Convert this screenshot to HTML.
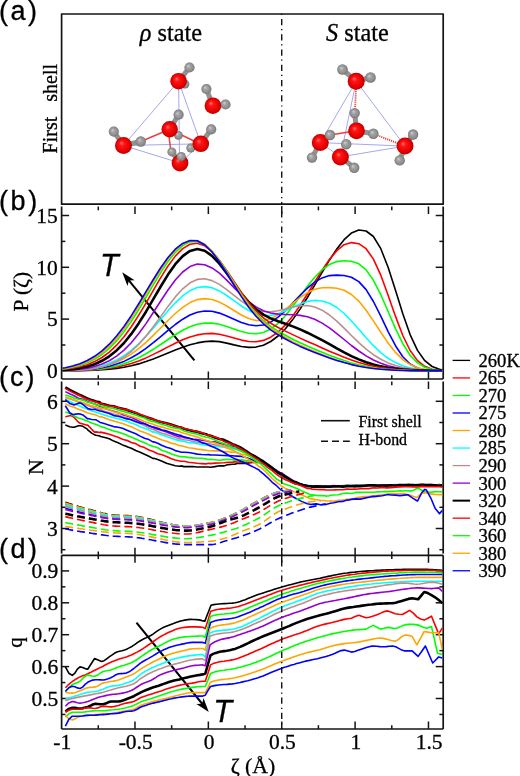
<!DOCTYPE html>
<html><head><meta charset="utf-8"><style>
html,body{margin:0;padding:0;background:#fff;width:520px;height:776px;overflow:hidden}
svg{display:block}
text{fill:#000;stroke:#000;stroke-width:0.3px}
</style></head><body>
<svg width="520" height="776" viewBox="0 0 520 776">
<rect x="61.6" y="14" width="381.59999999999997" height="190.2" fill="none" stroke="#141414" stroke-width="1.7" stroke-linejoin="round"/>
<line x1="61.6" y1="206.5" x2="61.6" y2="379" stroke="#141414" stroke-width="1.7" />
<line x1="443.2" y1="206.5" x2="443.2" y2="379" stroke="#141414" stroke-width="1.7" />
<line x1="61.6" y1="379" x2="443.2" y2="379" stroke="#141414" stroke-width="1.7" />
<line x1="61.6" y1="381.5" x2="61.6" y2="553.6" stroke="#141414" stroke-width="1.7" />
<line x1="443.2" y1="381.5" x2="443.2" y2="553.6" stroke="#141414" stroke-width="1.7" />
<line x1="61.6" y1="555.3" x2="443.2" y2="555.3" stroke="#141414" stroke-width="1.7" />
<line x1="61.6" y1="555.3" x2="61.6" y2="729" stroke="#141414" stroke-width="1.7" />
<line x1="443.2" y1="555.3" x2="443.2" y2="729" stroke="#141414" stroke-width="1.7" />
<line x1="61.6" y1="729" x2="443.2" y2="729" stroke="#141414" stroke-width="1.7" />
<line x1="98.2875" y1="206.5" x2="98.2875" y2="210.3" stroke="#141414" stroke-width="1.5" />
<line x1="98.2875" y1="379" x2="98.2875" y2="375.2" stroke="#141414" stroke-width="1.5" />
<line x1="98.2875" y1="381.5" x2="98.2875" y2="385.3" stroke="#141414" stroke-width="1.5" />
<line x1="98.2875" y1="555.3" x2="98.2875" y2="551.5" stroke="#141414" stroke-width="1.5" />
<line x1="98.2875" y1="555.3" x2="98.2875" y2="559.0999999999999" stroke="#141414" stroke-width="1.5" />
<line x1="98.2875" y1="729" x2="98.2875" y2="725.2" stroke="#141414" stroke-width="1.5" />
<line x1="134.975" y1="206.5" x2="134.975" y2="214.0" stroke="#141414" stroke-width="1.5" />
<line x1="134.975" y1="379" x2="134.975" y2="371.5" stroke="#141414" stroke-width="1.5" />
<line x1="134.975" y1="381.5" x2="134.975" y2="389.0" stroke="#141414" stroke-width="1.5" />
<line x1="134.975" y1="555.3" x2="134.975" y2="547.8" stroke="#141414" stroke-width="1.5" />
<line x1="134.975" y1="555.3" x2="134.975" y2="562.8" stroke="#141414" stroke-width="1.5" />
<line x1="134.975" y1="729" x2="134.975" y2="721.5" stroke="#141414" stroke-width="1.5" />
<line x1="171.6625" y1="206.5" x2="171.6625" y2="210.3" stroke="#141414" stroke-width="1.5" />
<line x1="171.6625" y1="379" x2="171.6625" y2="375.2" stroke="#141414" stroke-width="1.5" />
<line x1="171.6625" y1="381.5" x2="171.6625" y2="385.3" stroke="#141414" stroke-width="1.5" />
<line x1="171.6625" y1="555.3" x2="171.6625" y2="551.5" stroke="#141414" stroke-width="1.5" />
<line x1="171.6625" y1="555.3" x2="171.6625" y2="559.0999999999999" stroke="#141414" stroke-width="1.5" />
<line x1="171.6625" y1="729" x2="171.6625" y2="725.2" stroke="#141414" stroke-width="1.5" />
<line x1="208.35" y1="206.5" x2="208.35" y2="214.0" stroke="#141414" stroke-width="1.5" />
<line x1="208.35" y1="379" x2="208.35" y2="371.5" stroke="#141414" stroke-width="1.5" />
<line x1="208.35" y1="381.5" x2="208.35" y2="389.0" stroke="#141414" stroke-width="1.5" />
<line x1="208.35" y1="555.3" x2="208.35" y2="547.8" stroke="#141414" stroke-width="1.5" />
<line x1="208.35" y1="555.3" x2="208.35" y2="562.8" stroke="#141414" stroke-width="1.5" />
<line x1="208.35" y1="729" x2="208.35" y2="721.5" stroke="#141414" stroke-width="1.5" />
<line x1="245.0375" y1="206.5" x2="245.0375" y2="210.3" stroke="#141414" stroke-width="1.5" />
<line x1="245.0375" y1="379" x2="245.0375" y2="375.2" stroke="#141414" stroke-width="1.5" />
<line x1="245.0375" y1="381.5" x2="245.0375" y2="385.3" stroke="#141414" stroke-width="1.5" />
<line x1="245.0375" y1="555.3" x2="245.0375" y2="551.5" stroke="#141414" stroke-width="1.5" />
<line x1="245.0375" y1="555.3" x2="245.0375" y2="559.0999999999999" stroke="#141414" stroke-width="1.5" />
<line x1="245.0375" y1="729" x2="245.0375" y2="725.2" stroke="#141414" stroke-width="1.5" />
<line x1="281.725" y1="206.5" x2="281.725" y2="214.0" stroke="#141414" stroke-width="1.5" />
<line x1="281.725" y1="379" x2="281.725" y2="371.5" stroke="#141414" stroke-width="1.5" />
<line x1="281.725" y1="381.5" x2="281.725" y2="389.0" stroke="#141414" stroke-width="1.5" />
<line x1="281.725" y1="555.3" x2="281.725" y2="547.8" stroke="#141414" stroke-width="1.5" />
<line x1="281.725" y1="555.3" x2="281.725" y2="562.8" stroke="#141414" stroke-width="1.5" />
<line x1="281.725" y1="729" x2="281.725" y2="721.5" stroke="#141414" stroke-width="1.5" />
<line x1="318.4125" y1="206.5" x2="318.4125" y2="210.3" stroke="#141414" stroke-width="1.5" />
<line x1="318.4125" y1="379" x2="318.4125" y2="375.2" stroke="#141414" stroke-width="1.5" />
<line x1="318.4125" y1="381.5" x2="318.4125" y2="385.3" stroke="#141414" stroke-width="1.5" />
<line x1="318.4125" y1="555.3" x2="318.4125" y2="551.5" stroke="#141414" stroke-width="1.5" />
<line x1="318.4125" y1="555.3" x2="318.4125" y2="559.0999999999999" stroke="#141414" stroke-width="1.5" />
<line x1="318.4125" y1="729" x2="318.4125" y2="725.2" stroke="#141414" stroke-width="1.5" />
<line x1="355.1" y1="206.5" x2="355.1" y2="214.0" stroke="#141414" stroke-width="1.5" />
<line x1="355.1" y1="379" x2="355.1" y2="371.5" stroke="#141414" stroke-width="1.5" />
<line x1="355.1" y1="381.5" x2="355.1" y2="389.0" stroke="#141414" stroke-width="1.5" />
<line x1="355.1" y1="555.3" x2="355.1" y2="547.8" stroke="#141414" stroke-width="1.5" />
<line x1="355.1" y1="555.3" x2="355.1" y2="562.8" stroke="#141414" stroke-width="1.5" />
<line x1="355.1" y1="729" x2="355.1" y2="721.5" stroke="#141414" stroke-width="1.5" />
<line x1="391.7875" y1="206.5" x2="391.7875" y2="210.3" stroke="#141414" stroke-width="1.5" />
<line x1="391.7875" y1="379" x2="391.7875" y2="375.2" stroke="#141414" stroke-width="1.5" />
<line x1="391.7875" y1="381.5" x2="391.7875" y2="385.3" stroke="#141414" stroke-width="1.5" />
<line x1="391.7875" y1="555.3" x2="391.7875" y2="551.5" stroke="#141414" stroke-width="1.5" />
<line x1="391.7875" y1="555.3" x2="391.7875" y2="559.0999999999999" stroke="#141414" stroke-width="1.5" />
<line x1="391.7875" y1="729" x2="391.7875" y2="725.2" stroke="#141414" stroke-width="1.5" />
<line x1="428.475" y1="206.5" x2="428.475" y2="214.0" stroke="#141414" stroke-width="1.5" />
<line x1="428.475" y1="379" x2="428.475" y2="371.5" stroke="#141414" stroke-width="1.5" />
<line x1="428.475" y1="381.5" x2="428.475" y2="389.0" stroke="#141414" stroke-width="1.5" />
<line x1="428.475" y1="555.3" x2="428.475" y2="547.8" stroke="#141414" stroke-width="1.5" />
<line x1="428.475" y1="555.3" x2="428.475" y2="562.8" stroke="#141414" stroke-width="1.5" />
<line x1="428.475" y1="729" x2="428.475" y2="721.5" stroke="#141414" stroke-width="1.5" />
<line x1="61.6" y1="370.9" x2="69.1" y2="370.9" stroke="#141414" stroke-width="1.5" />
<line x1="443.2" y1="370.9" x2="435.7" y2="370.9" stroke="#141414" stroke-width="1.5" />
<line x1="61.6" y1="345.0" x2="65.4" y2="345.0" stroke="#141414" stroke-width="1.5" />
<line x1="443.2" y1="345.0" x2="439.4" y2="345.0" stroke="#141414" stroke-width="1.5" />
<line x1="61.6" y1="319.09999999999997" x2="69.1" y2="319.09999999999997" stroke="#141414" stroke-width="1.5" />
<line x1="443.2" y1="319.09999999999997" x2="435.7" y2="319.09999999999997" stroke="#141414" stroke-width="1.5" />
<line x1="61.6" y1="293.2" x2="65.4" y2="293.2" stroke="#141414" stroke-width="1.5" />
<line x1="443.2" y1="293.2" x2="439.4" y2="293.2" stroke="#141414" stroke-width="1.5" />
<line x1="61.6" y1="267.29999999999995" x2="69.1" y2="267.29999999999995" stroke="#141414" stroke-width="1.5" />
<line x1="443.2" y1="267.29999999999995" x2="435.7" y2="267.29999999999995" stroke="#141414" stroke-width="1.5" />
<line x1="61.6" y1="241.39999999999998" x2="65.4" y2="241.39999999999998" stroke="#141414" stroke-width="1.5" />
<line x1="443.2" y1="241.39999999999998" x2="439.4" y2="241.39999999999998" stroke="#141414" stroke-width="1.5" />
<line x1="61.6" y1="215.5" x2="69.1" y2="215.5" stroke="#141414" stroke-width="1.5" />
<line x1="443.2" y1="215.5" x2="435.7" y2="215.5" stroke="#141414" stroke-width="1.5" />
<line x1="61.6" y1="549.7" x2="65.4" y2="549.7" stroke="#141414" stroke-width="1.5" />
<line x1="443.2" y1="549.7" x2="439.4" y2="549.7" stroke="#141414" stroke-width="1.5" />
<line x1="61.6" y1="528.5" x2="69.1" y2="528.5" stroke="#141414" stroke-width="1.5" />
<line x1="443.2" y1="528.5" x2="435.7" y2="528.5" stroke="#141414" stroke-width="1.5" />
<line x1="61.6" y1="507.3" x2="65.4" y2="507.3" stroke="#141414" stroke-width="1.5" />
<line x1="443.2" y1="507.3" x2="439.4" y2="507.3" stroke="#141414" stroke-width="1.5" />
<line x1="61.6" y1="486.1" x2="69.1" y2="486.1" stroke="#141414" stroke-width="1.5" />
<line x1="443.2" y1="486.1" x2="435.7" y2="486.1" stroke="#141414" stroke-width="1.5" />
<line x1="61.6" y1="464.9" x2="65.4" y2="464.9" stroke="#141414" stroke-width="1.5" />
<line x1="443.2" y1="464.9" x2="439.4" y2="464.9" stroke="#141414" stroke-width="1.5" />
<line x1="61.6" y1="443.7" x2="69.1" y2="443.7" stroke="#141414" stroke-width="1.5" />
<line x1="443.2" y1="443.7" x2="435.7" y2="443.7" stroke="#141414" stroke-width="1.5" />
<line x1="61.6" y1="422.5" x2="65.4" y2="422.5" stroke="#141414" stroke-width="1.5" />
<line x1="443.2" y1="422.5" x2="439.4" y2="422.5" stroke="#141414" stroke-width="1.5" />
<line x1="61.6" y1="401.3" x2="69.1" y2="401.3" stroke="#141414" stroke-width="1.5" />
<line x1="443.2" y1="401.3" x2="435.7" y2="401.3" stroke="#141414" stroke-width="1.5" />
<line x1="61.6" y1="714.45" x2="65.4" y2="714.45" stroke="#141414" stroke-width="1.5" />
<line x1="443.2" y1="714.45" x2="439.4" y2="714.45" stroke="#141414" stroke-width="1.5" />
<line x1="61.6" y1="698.5" x2="69.1" y2="698.5" stroke="#141414" stroke-width="1.5" />
<line x1="443.2" y1="698.5" x2="435.7" y2="698.5" stroke="#141414" stroke-width="1.5" />
<line x1="61.6" y1="682.55" x2="65.4" y2="682.55" stroke="#141414" stroke-width="1.5" />
<line x1="443.2" y1="682.55" x2="439.4" y2="682.55" stroke="#141414" stroke-width="1.5" />
<line x1="61.6" y1="666.6" x2="69.1" y2="666.6" stroke="#141414" stroke-width="1.5" />
<line x1="443.2" y1="666.6" x2="435.7" y2="666.6" stroke="#141414" stroke-width="1.5" />
<line x1="61.6" y1="650.65" x2="65.4" y2="650.65" stroke="#141414" stroke-width="1.5" />
<line x1="443.2" y1="650.65" x2="439.4" y2="650.65" stroke="#141414" stroke-width="1.5" />
<line x1="61.6" y1="634.6999999999999" x2="69.1" y2="634.6999999999999" stroke="#141414" stroke-width="1.5" />
<line x1="443.2" y1="634.6999999999999" x2="435.7" y2="634.6999999999999" stroke="#141414" stroke-width="1.5" />
<line x1="61.6" y1="618.75" x2="65.4" y2="618.75" stroke="#141414" stroke-width="1.5" />
<line x1="443.2" y1="618.75" x2="439.4" y2="618.75" stroke="#141414" stroke-width="1.5" />
<line x1="61.6" y1="602.8" x2="69.1" y2="602.8" stroke="#141414" stroke-width="1.5" />
<line x1="443.2" y1="602.8" x2="435.7" y2="602.8" stroke="#141414" stroke-width="1.5" />
<line x1="61.6" y1="586.8499999999999" x2="65.4" y2="586.8499999999999" stroke="#141414" stroke-width="1.5" />
<line x1="443.2" y1="586.8499999999999" x2="439.4" y2="586.8499999999999" stroke="#141414" stroke-width="1.5" />
<line x1="61.6" y1="570.9" x2="69.1" y2="570.9" stroke="#141414" stroke-width="1.5" />
<line x1="443.2" y1="570.9" x2="435.7" y2="570.9" stroke="#141414" stroke-width="1.5" />
<text x="57.8" y="222.8" font-size="21.5" font-family="'Liberation Serif', 'Times New Roman', serif" text-anchor="end" >15</text>
<text x="57.8" y="274.59999999999997" font-size="21.5" font-family="'Liberation Serif', 'Times New Roman', serif" text-anchor="end" >10</text>
<text x="57.8" y="326.4" font-size="21.5" font-family="'Liberation Serif', 'Times New Roman', serif" text-anchor="end" >5</text>
<text x="57.8" y="378.2" font-size="21.5" font-family="'Liberation Serif', 'Times New Roman', serif" text-anchor="end" >0</text>
<text x="57.8" y="536.1" font-size="21.5" font-family="'Liberation Serif', 'Times New Roman', serif" text-anchor="end" >3</text>
<text x="57.8" y="493.70000000000005" font-size="21.5" font-family="'Liberation Serif', 'Times New Roman', serif" text-anchor="end" >4</text>
<text x="57.8" y="451.3" font-size="21.5" font-family="'Liberation Serif', 'Times New Roman', serif" text-anchor="end" >5</text>
<text x="57.8" y="408.90000000000003" font-size="21.5" font-family="'Liberation Serif', 'Times New Roman', serif" text-anchor="end" >6</text>
<text x="58.3" y="706.0" font-size="21.5" font-family="'Liberation Serif', 'Times New Roman', serif" text-anchor="end" >0.5</text>
<text x="58.3" y="674.1" font-size="21.5" font-family="'Liberation Serif', 'Times New Roman', serif" text-anchor="end" >0.6</text>
<text x="58.3" y="642.2" font-size="21.5" font-family="'Liberation Serif', 'Times New Roman', serif" text-anchor="end" >0.7</text>
<text x="58.3" y="610.3" font-size="21.5" font-family="'Liberation Serif', 'Times New Roman', serif" text-anchor="end" >0.8</text>
<text x="58.3" y="578.4" font-size="21.5" font-family="'Liberation Serif', 'Times New Roman', serif" text-anchor="end" >0.9</text>
<text x="62.3" y="748.8" font-size="21.5" font-family="'Liberation Serif', 'Times New Roman', serif" text-anchor="middle" >-1</text>
<text x="135.67499999999998" y="748.8" font-size="21.5" font-family="'Liberation Serif', 'Times New Roman', serif" text-anchor="middle" >-0.5</text>
<text x="209.04999999999998" y="748.8" font-size="21.5" font-family="'Liberation Serif', 'Times New Roman', serif" text-anchor="middle" >0</text>
<text x="282.425" y="748.8" font-size="21.5" font-family="'Liberation Serif', 'Times New Roman', serif" text-anchor="middle" >0.5</text>
<text x="355.8" y="748.8" font-size="21.5" font-family="'Liberation Serif', 'Times New Roman', serif" text-anchor="middle" >1</text>
<text x="429.175" y="748.8" font-size="21.5" font-family="'Liberation Serif', 'Times New Roman', serif" text-anchor="middle" >1.5</text>
<text x="0" y="0" font-size="20" font-family="'Liberation Serif', 'Times New Roman', serif" text-anchor="middle" transform="translate(57.1,108.7) rotate(-90)">First&#160;&#160;&#160;shell</text>
<text x="0" y="0" font-size="21.5" font-family="'Liberation Serif', 'Times New Roman', serif" text-anchor="middle" transform="translate(27.8,291.7) rotate(-90)">P (ζ)</text>
<text x="0" y="0" font-size="22" font-family="'Liberation Serif', 'Times New Roman', serif" text-anchor="middle" transform="translate(43.2,467) rotate(-90)">N</text>
<text x="0" y="0" font-size="21" font-family="'Liberation Serif', 'Times New Roman', serif" text-anchor="middle" transform="translate(21.5,642.5) rotate(-90)">q</text>
<text x="253" y="773" font-size="21.8" font-family="'Liberation Serif', 'Times New Roman', serif" text-anchor="middle" >ζ (Å)</text>
<text x="-1" y="19.9" font-size="27" font-family="'Liberation Sans', Arial, sans-serif" text-anchor="start" letter-spacing="2.5">(a)</text>
<text x="-1" y="210.3" font-size="27" font-family="'Liberation Sans', Arial, sans-serif" text-anchor="start" letter-spacing="2.6">(b)</text>
<text x="-1" y="386.3" font-size="27" font-family="'Liberation Sans', Arial, sans-serif" text-anchor="start" letter-spacing="2.0">(c)</text>
<text x="-1" y="558.4" font-size="27" font-family="'Liberation Sans', Arial, sans-serif" text-anchor="start" letter-spacing="2.5">(d)</text>
<text x="139.8" y="41.3" font-size="24.3" font-family="'Liberation Serif', 'Times New Roman', serif" text-anchor="start" ><tspan font-style="italic">ρ</tspan> state</text>
<text x="326" y="41.3" font-size="24.3" font-family="'Liberation Serif', 'Times New Roman', serif" text-anchor="start" ><tspan font-style="italic">S</tspan> state</text>
<line x1="452.6" y1="360.4" x2="470.1" y2="360.4" stroke="#000" stroke-width="1.3" />
<text x="478.5" y="366.79999999999995" font-size="18.6" font-family="'Liberation Serif', 'Times New Roman', serif" text-anchor="start" >260K</text>
<line x1="452.6" y1="377.92999999999995" x2="470.1" y2="377.92999999999995" stroke="#f00" stroke-width="1.3" />
<text x="478.5" y="384.3299999999999" font-size="18.6" font-family="'Liberation Serif', 'Times New Roman', serif" text-anchor="start" >265</text>
<line x1="452.6" y1="395.46" x2="470.1" y2="395.46" stroke="#0f0" stroke-width="1.3" />
<text x="478.5" y="401.85999999999996" font-size="18.6" font-family="'Liberation Serif', 'Times New Roman', serif" text-anchor="start" >270</text>
<line x1="452.6" y1="412.99" x2="470.1" y2="412.99" stroke="#00f" stroke-width="1.3" />
<text x="478.5" y="419.39" font-size="18.6" font-family="'Liberation Serif', 'Times New Roman', serif" text-anchor="start" >275</text>
<line x1="452.6" y1="430.52" x2="470.1" y2="430.52" stroke="#ffa500" stroke-width="1.3" />
<text x="478.5" y="436.91999999999996" font-size="18.6" font-family="'Liberation Serif', 'Times New Roman', serif" text-anchor="start" >280</text>
<line x1="452.6" y1="448.04999999999995" x2="470.1" y2="448.04999999999995" stroke="#0ff" stroke-width="1.3" />
<text x="478.5" y="454.44999999999993" font-size="18.6" font-family="'Liberation Serif', 'Times New Roman', serif" text-anchor="start" >285</text>
<line x1="452.6" y1="465.58" x2="470.1" y2="465.58" stroke="#bc8f8f" stroke-width="1.3" />
<text x="478.5" y="471.97999999999996" font-size="18.6" font-family="'Liberation Serif', 'Times New Roman', serif" text-anchor="start" >290</text>
<line x1="452.6" y1="483.11" x2="470.1" y2="483.11" stroke="#9400d3" stroke-width="1.3" />
<text x="478.5" y="489.51" font-size="18.6" font-family="'Liberation Serif', 'Times New Roman', serif" text-anchor="start" >300</text>
<line x1="452.6" y1="500.64" x2="470.1" y2="500.64" stroke="#000" stroke-width="2.0" />
<text x="478.5" y="507.03999999999996" font-size="18.6" font-family="'Liberation Serif', 'Times New Roman', serif" text-anchor="start" >320</text>
<line x1="452.6" y1="518.17" x2="470.1" y2="518.17" stroke="#f00" stroke-width="1.3" />
<text x="478.5" y="524.5699999999999" font-size="18.6" font-family="'Liberation Serif', 'Times New Roman', serif" text-anchor="start" >340</text>
<line x1="452.6" y1="535.7" x2="470.1" y2="535.7" stroke="#0f0" stroke-width="1.3" />
<text x="478.5" y="542.1" font-size="18.6" font-family="'Liberation Serif', 'Times New Roman', serif" text-anchor="start" >360</text>
<line x1="452.6" y1="553.23" x2="470.1" y2="553.23" stroke="#ffa500" stroke-width="1.3" />
<text x="478.5" y="559.63" font-size="18.6" font-family="'Liberation Serif', 'Times New Roman', serif" text-anchor="start" >380</text>
<line x1="452.6" y1="570.76" x2="470.1" y2="570.76" stroke="#00f" stroke-width="1.3" />
<text x="478.5" y="577.16" font-size="18.6" font-family="'Liberation Serif', 'Times New Roman', serif" text-anchor="start" >390</text>
<line x1="321" y1="420.7" x2="349.8" y2="420.7" stroke="#111" stroke-width="1.6" />
<line x1="321" y1="441.2" x2="349.8" y2="441.2" stroke="#111" stroke-width="1.6" stroke-dasharray="7,4"/>
<text x="358.5" y="426.9" font-size="15.9" font-family="'Liberation Serif', 'Times New Roman', serif" text-anchor="start" >First shell</text>
<text x="358.5" y="444.6" font-size="15.9" font-family="'Liberation Serif', 'Times New Roman', serif" text-anchor="start" >H-bond</text>
<line x1="194.4" y1="360.3" x2="128.2" y2="279.6" stroke="#000" stroke-width="2.0"/>
<polygon points="122.2,272.3 134.6,280.2 128.9,280.4 127.5,286.0" fill="#000"/>
<line x1="136.5" y1="622.7" x2="202.8" y2="704.5" stroke="#000" stroke-width="2.0"/>
<polygon points="208.75,711.9 196.4,703.9 202.1,703.7 203.5,698.1" fill="#000"/>
<text x="100.0" y="275.8" font-size="30.5" font-family="'Liberation Sans', Arial, sans-serif" text-anchor="start" font-style="italic">T</text>
<text x="213.2" y="721.6" font-size="30.8" font-family="'Liberation Sans', Arial, sans-serif" text-anchor="start" font-style="italic">T</text>
<defs><clipPath id="cb"><rect x="62.4" y="205" width="380" height="173.5"/></clipPath><clipPath id="cc"><rect x="62.4" y="380" width="380" height="174.5"/></clipPath><clipPath id="cd"><rect x="62.4" y="556" width="380" height="172.3"/></clipPath></defs>
<g clip-path="url(#cb)" fill="none" stroke-linejoin="round">
<path d="M61.6,370.8 L65.3,370.8 L72.6,370.8 L79.9,370.6 L87.3,370.5 L94.6,370.2 L102.0,369.8 L109.3,369.2 L116.6,368.4 L124.0,367.2 L131.3,365.7 L138.6,363.9 L146.0,361.6 L153.3,359.0 L160.7,356.1 L168.0,353.1 L175.3,350.1 L182.7,347.2 L190.0,344.8 L197.3,342.9 L204.7,341.6 L212.0,341.1 L219.4,341.6 L226.7,343.1 L234.0,344.9 L241.4,346.5 L248.7,347.4 L256.0,347.1 L263.4,345.2 L270.7,341.5 L278.1,336.0 L285.4,328.7 L292.7,319.6 L300.1,309.1 L307.4,297.5 L314.7,285.1 L322.1,272.4 L329.4,260.2 L336.8,249.0 L344.1,239.7 L351.4,233.1 L358.8,230.0 L366.1,231.0 L373.4,236.5 L380.8,248.7 L388.1,267.3 L395.5,290.2 L402.8,313.8 L410.1,334.6 L417.5,350.4 L424.8,360.7 L432.1,366.5 L439.5,369.3 L443.1,370.0" stroke="#000" stroke-width="1.6"/>
<path d="M61.6,370.8 L65.3,370.8 L72.6,370.7 L79.9,370.5 L87.3,370.2 L94.6,369.8 L102.0,369.2 L109.3,368.3 L116.6,367.1 L124.0,365.5 L131.3,363.4 L138.6,360.9 L146.0,357.9 L153.3,354.4 L160.7,350.7 L168.0,346.9 L175.3,343.2 L182.7,339.8 L190.0,337.0 L197.3,334.9 L204.7,333.7 L212.0,333.4 L219.4,334.3 L226.7,336.0 L234.0,338.1 L241.4,340.1 L248.7,341.5 L256.0,341.7 L263.4,340.4 L270.7,337.2 L278.1,332.0 L285.4,324.9 L292.7,316.0 L300.1,305.5 L307.4,294.0 L314.7,282.0 L322.1,270.2 L329.4,259.5 L336.8,250.7 L344.1,244.7 L351.4,242.6 L358.8,243.7 L366.1,248.7 L373.4,259.1 L380.8,275.2 L388.1,295.2 L395.5,316.4 L402.8,335.5 L410.1,350.5 L417.5,360.6 L424.8,366.3 L432.1,369.2 L439.5,370.3 L443.1,370.6" stroke="#f00" stroke-width="1.6"/>
<path d="M61.6,370.8 L65.3,370.7 L72.6,370.6 L79.9,370.3 L87.3,370.0 L94.6,369.4 L102.0,368.6 L109.3,367.5 L116.6,365.9 L124.0,363.8 L131.3,361.1 L138.6,357.7 L146.0,353.8 L153.3,349.3 L160.7,344.5 L168.0,339.5 L175.3,334.7 L182.7,330.3 L190.0,326.8 L197.3,324.3 L204.7,323.1 L212.0,323.1 L219.4,324.3 L226.7,326.4 L234.0,329.0 L241.4,331.5 L248.7,333.3 L256.0,333.8 L263.4,332.5 L270.7,329.1 L278.1,323.4 L285.4,315.7 L292.7,306.5 L300.1,296.4 L307.4,286.3 L314.7,277.2 L322.1,269.8 L329.4,264.5 L336.8,261.6 L344.1,260.8 L351.4,261.3 L358.8,263.8 L366.1,269.9 L373.4,280.3 L380.8,294.7 L388.1,311.5 L395.5,328.6 L402.8,343.6 L410.1,355.2 L417.5,362.9 L424.8,367.3 L432.1,369.5 L439.5,370.4 L443.1,370.7" stroke="#0f0" stroke-width="1.6"/>
<path d="M61.6,370.7 L65.3,370.6 L72.6,370.4 L79.9,370.1 L87.3,369.6 L94.6,368.9 L102.0,367.8 L109.3,366.3 L116.6,364.1 L124.0,361.4 L131.3,357.8 L138.6,353.5 L146.0,348.4 L153.3,342.7 L160.7,336.6 L168.0,330.4 L175.3,324.5 L182.7,319.2 L190.0,315.0 L197.3,312.2 L204.7,311.0 L212.0,311.3 L219.4,313.1 L226.7,315.9 L234.0,319.2 L241.4,322.4 L248.7,324.8 L256.0,325.8 L263.4,325.0 L270.7,322.1 L278.1,317.2 L285.4,310.7 L292.7,303.1 L300.1,295.3 L307.4,288.1 L314.7,282.1 L322.1,277.9 L329.4,275.6 L336.8,275.1 L344.1,275.5 L351.4,277.2 L358.8,281.6 L366.1,289.6 L373.4,301.5 L380.8,316.1 L388.1,331.6 L395.5,345.7 L402.8,356.7 L410.1,364.0 L417.5,368.0 L424.8,369.9 L432.1,370.6 L439.5,370.8 L443.1,370.9" stroke="#00f" stroke-width="1.6"/>
<path d="M61.6,370.6 L65.3,370.5 L72.6,370.3 L79.9,369.9 L87.3,369.2 L94.6,368.2 L102.0,366.8 L109.3,364.8 L116.6,362.1 L124.0,358.6 L131.3,354.1 L138.6,348.7 L146.0,342.4 L153.3,335.4 L160.7,328.0 L168.0,320.5 L175.3,313.5 L182.7,307.3 L190.0,302.6 L197.3,299.6 L204.7,298.6 L212.0,299.5 L219.4,302.1 L226.7,306.0 L234.0,310.5 L241.4,315.0 L248.7,318.5 L256.0,320.5 L263.4,320.6 L270.7,318.6 L278.1,314.7 L285.4,309.4 L292.7,303.4 L300.1,297.6 L307.4,292.7 L314.7,289.3 L322.1,287.7 L329.4,287.6 L336.8,288.3 L344.1,290.3 L351.4,294.5 L358.8,301.1 L366.1,310.2 L373.4,320.9 L380.8,332.3 L388.1,343.1 L395.5,352.4 L402.8,359.6 L410.1,364.6 L417.5,367.7 L424.8,369.4 L432.1,370.3 L439.5,370.7 L443.1,370.8" stroke="#ffa500" stroke-width="1.6"/>
<path d="M61.6,370.6 L65.3,370.4 L72.6,370.1 L79.9,369.6 L87.3,368.8 L94.6,367.5 L102.0,365.8 L109.3,363.3 L116.6,360.0 L124.0,355.7 L131.3,350.3 L138.6,343.8 L146.0,336.3 L153.3,328.1 L160.7,319.4 L168.0,310.8 L175.3,302.8 L182.7,295.9 L190.0,290.7 L197.3,287.5 L204.7,286.6 L212.0,287.8 L219.4,290.9 L226.7,295.5 L234.0,300.7 L241.4,306.0 L248.7,310.6 L256.0,313.9 L263.4,315.5 L270.7,315.4 L278.1,313.7 L285.4,310.8 L292.7,307.3 L300.1,304.0 L307.4,301.5 L314.7,300.4 L322.1,301.0 L329.4,303.3 L336.8,307.5 L344.1,313.5 L351.4,321.0 L358.8,329.3 L366.1,337.8 L373.4,345.7 L380.8,352.7 L388.1,358.3 L395.5,362.6 L402.8,365.8 L410.1,367.9 L417.5,369.2 L424.8,370.0 L432.1,370.4 L439.5,370.7 L443.1,370.8" stroke="#0ff" stroke-width="1.6"/>
<path d="M61.6,370.7 L65.3,370.6 L72.6,370.4 L79.9,370.0 L87.3,369.4 L94.6,368.4 L102.0,366.9 L109.3,364.6 L116.6,361.5 L124.0,357.1 L131.3,351.5 L138.6,344.5 L146.0,336.1 L153.3,326.7 L160.7,316.6 L168.0,306.4 L175.3,296.9 L182.7,288.8 L190.0,282.8 L197.3,279.4 L204.7,278.8 L212.0,280.6 L219.4,284.4 L226.7,289.6 L234.0,295.4 L241.4,301.1 L248.7,306.0 L256.0,309.6 L263.4,311.5 L270.7,311.8 L278.1,310.8 L285.4,309.0 L292.7,307.0 L300.1,305.7 L307.4,305.5 L314.7,307.0 L322.1,310.2 L329.4,315.0 L336.8,321.2 L344.1,328.2 L351.4,335.5 L358.8,342.6 L366.1,349.1 L373.4,354.7 L380.8,359.3 L388.1,362.9 L395.5,365.6 L402.8,367.5 L410.1,368.8 L417.5,369.6 L424.8,370.2 L432.1,370.5 L439.5,370.7 L443.1,370.7" stroke="#bc8f8f" stroke-width="1.6"/>
<path d="M61.6,370.5 L65.3,370.3 L72.6,369.9 L79.9,369.2 L87.3,368.1 L94.6,366.5 L102.0,364.1 L109.3,360.7 L116.6,356.1 L124.0,350.1 L131.3,342.7 L138.6,333.8 L146.0,323.6 L153.3,312.5 L160.7,301.0 L168.0,290.0 L175.3,280.0 L182.7,272.0 L190.0,266.6 L197.3,264.1 L204.7,264.7 L212.0,267.9 L219.4,273.2 L226.7,280.1 L234.0,287.6 L241.4,295.0 L248.7,301.6 L256.0,306.9 L263.4,310.7 L270.7,313.0 L278.1,314.1 L285.4,314.5 L292.7,314.8 L300.1,315.4 L307.4,316.8 L314.7,319.3 L322.1,323.1 L329.4,327.9 L336.8,333.6 L344.1,339.5 L351.4,345.5 L358.8,351.0 L366.1,355.9 L373.4,360.0 L380.8,363.3 L388.1,365.7 L395.5,367.5 L402.8,368.8 L410.1,369.6 L417.5,370.2 L424.8,370.5 L432.1,370.7 L439.5,370.8 L443.1,370.8" stroke="#9400d3" stroke-width="1.6"/>
<path d="M61.6,370.1 L65.3,369.9 L72.6,369.2 L79.9,368.1 L87.3,366.5 L94.6,364.2 L102.0,360.8 L109.3,356.3 L116.6,350.4 L124.0,343.0 L131.3,333.9 L138.6,323.4 L146.0,311.7 L153.3,299.1 L160.7,286.5 L168.0,274.6 L175.3,264.2 L182.7,256.1 L190.0,250.9 L197.3,249.0 L204.7,250.7 L212.0,255.9 L219.4,263.7 L226.7,273.3 L234.0,283.6 L241.4,293.5 L248.7,302.2 L256.0,309.3 L263.4,314.6 L270.7,318.4 L278.1,321.2 L285.4,323.7 L292.7,326.4 L300.1,329.4 L307.4,332.7 L314.7,336.3 L322.1,340.2 L329.4,344.2 L336.8,348.4 L344.1,352.4 L351.4,356.1 L358.8,359.4 L366.1,362.2 L373.4,364.5 L380.8,366.4 L388.1,367.8 L395.5,368.8 L402.8,369.5 L410.1,370.0 L417.5,370.4 L424.8,370.6 L432.1,370.7 L439.5,370.8 L443.1,370.8" stroke="#000" stroke-width="2.6"/>
<path d="M61.6,369.6 L65.3,369.3 L72.6,368.3 L79.9,366.8 L87.3,364.7 L94.6,361.6 L102.0,357.5 L109.3,352.1 L116.6,345.2 L124.0,336.8 L131.3,326.8 L138.6,315.4 L146.0,303.1 L153.3,290.3 L160.7,277.6 L168.0,266.0 L175.3,256.1 L182.7,248.6 L190.0,244.3 L197.3,243.3 L204.7,245.8 L212.0,251.7 L219.4,260.2 L226.7,270.4 L234.0,281.5 L241.4,292.4 L248.7,302.4 L256.0,310.9 L263.4,317.8 L270.7,323.2 L278.1,327.5 L285.4,331.1 L292.7,334.6 L300.1,338.1 L307.4,341.4 L314.7,344.6 L322.1,347.9 L329.4,351.2 L336.8,354.3 L344.1,357.3 L351.4,360.1 L358.8,362.5 L366.1,364.6 L373.4,366.3 L380.8,367.6 L388.1,368.6 L395.5,369.4 L402.8,369.9 L410.1,370.3 L417.5,370.5 L424.8,370.7 L432.1,370.8 L439.5,370.8 L443.1,370.8" stroke="#f00" stroke-width="1.6"/>
<path d="M61.6,369.1 L65.3,368.6 L72.6,367.3 L79.9,365.4 L87.3,362.8 L94.6,359.2 L102.0,354.5 L109.3,348.4 L116.6,340.9 L124.0,331.8 L131.3,321.4 L138.6,309.8 L146.0,297.4 L153.3,284.8 L160.7,272.6 L168.0,261.5 L175.3,252.3 L182.7,245.6 L190.0,241.9 L197.3,241.5 L204.7,244.6 L212.0,251.1 L219.4,260.3 L226.7,271.1 L234.0,282.7 L241.4,294.1 L248.7,304.4 L256.0,313.3 L263.4,320.6 L270.7,326.4 L278.1,331.1 L285.4,335.2 L292.7,339.2 L300.1,342.8 L307.4,346.1 L314.7,349.2 L322.1,352.3 L329.4,355.3 L336.8,358.0 L344.1,360.6 L351.4,362.9 L358.8,364.8 L366.1,366.4 L373.4,367.7 L380.8,368.7 L388.1,369.4 L395.5,369.9 L402.8,370.3 L410.1,370.5 L417.5,370.7 L424.8,370.8 L432.1,370.8 L439.5,370.9 L443.1,370.9" stroke="#0f0" stroke-width="1.6"/>
<path d="M61.6,368.7 L65.3,368.1 L72.6,366.7 L79.9,364.6 L87.3,361.7 L94.6,357.8 L102.0,352.7 L109.3,346.2 L116.6,338.4 L124.0,329.0 L131.3,318.4 L138.6,306.6 L146.0,294.2 L153.3,281.7 L160.7,269.8 L168.0,259.0 L175.3,250.2 L182.7,244.0 L190.0,240.7 L197.3,240.6 L204.7,244.2 L212.0,251.0 L219.4,260.5 L226.7,271.6 L234.0,283.4 L241.4,295.0 L248.7,305.5 L256.0,314.6 L263.4,322.1 L270.7,328.2 L278.1,333.2 L285.4,337.5 L292.7,341.6 L300.1,345.2 L307.4,348.5 L314.7,351.6 L322.1,354.5 L329.4,357.3 L336.8,359.9 L344.1,362.2 L351.4,364.2 L358.8,365.9 L366.1,367.3 L373.4,368.4 L380.8,369.2 L388.1,369.8 L395.5,370.2 L402.8,370.4 L410.1,370.6 L417.5,370.7 L424.8,370.8 L432.1,370.9 L439.5,370.9 L443.1,370.9" stroke="#ffa500" stroke-width="1.6"/>
<path d="M61.6,368.3 L65.3,367.7 L72.6,366.0 L79.9,363.7 L87.3,360.5 L94.6,356.3 L102.0,350.9 L109.3,344.2 L116.6,336.0 L124.0,326.5 L131.3,315.7 L138.6,304.0 L146.0,291.7 L153.3,279.5 L160.7,267.8 L168.0,257.5 L175.3,249.2 L182.7,243.4 L190.0,240.5 L197.3,240.8 L204.7,244.8 L212.0,252.0 L219.4,261.7 L226.7,273.0 L234.0,285.0 L241.4,296.6 L248.7,307.2 L256.0,316.3 L263.4,323.8 L270.7,329.8 L278.1,334.8 L285.4,339.0 L292.7,342.9 L300.1,346.4 L307.4,349.6 L314.7,352.5 L322.1,355.3 L329.4,358.0 L336.8,360.4 L344.1,362.6 L351.4,364.6 L358.8,366.2 L366.1,367.5 L373.4,368.5 L380.8,369.3 L388.1,369.8 L395.5,370.2 L402.8,370.5 L410.1,370.6 L417.5,370.8 L424.8,370.8 L432.1,370.9 L439.5,370.9 L443.1,370.9" stroke="#00f" stroke-width="1.6"/>
</g>
<g clip-path="url(#cc)" fill="none" stroke-linejoin="round">
<path d="M65.3,425.0 L69.7,426.7 L72.8,427.2 L74.1,427.3 L78.5,425.8 L80.2,425.7 L82.9,426.3 L87.3,429.1 L87.7,429.8 L91.7,433.1 L95.2,435.1 L96.1,435.3 L99.8,436.0 L100.5,436.5 L104.9,437.5 L109.3,438.8 L113.7,441.1 L118.1,442.7 L122.5,444.9 L126.9,446.6 L126.9,446.7 L131.3,448.2 L135.7,450.5 L140.1,452.2 L144.5,454.3 L148.9,456.3 L153.3,458.6 L153.8,458.3 L157.7,459.6 L162.1,461.2 L166.5,463.3 L170.9,464.5 L175.3,465.7 L179.7,466.3 L180.8,465.9 L184.1,466.6 L188.5,466.6 L192.9,466.5 L197.3,467.0 L201.7,467.0 L206.1,467.0 L208.3,467.0 L210.6,467.3 L215.0,466.6 L219.4,465.8 L223.8,465.9 L228.2,464.6 L232.6,464.2 L234.8,464.2 L237.0,463.4 L241.4,463.3 L245.8,463.4 L250.2,462.7 L254.6,462.3 L259.0,462.4 L259.7,462.2 L263.4,463.0 L267.8,465.1 L272.2,468.1 L276.6,472.1 L281.0,475.0 L281.7,475.6 L285.4,477.8 L289.8,481.2 L294.2,483.4 L296.4,484.0 L298.6,484.2 L303.0,485.1 L307.4,486.3 L311.1,486.3 L311.8,485.9 L316.2,486.6 L320.6,486.2 L325.0,486.1 L325.8,485.8 L329.4,485.9 L333.8,486.1 L338.2,486.1 L342.6,486.0 L347.0,485.4 L351.4,485.8 L355.1,485.8 L355.8,485.6 L360.2,485.6 L364.6,485.6 L369.0,485.8 L373.4,485.4 L377.8,485.5 L382.2,485.0 L384.4,485.1 L386.7,485.2 L391.1,485.0 L395.5,485.1 L399.9,484.7 L404.3,484.9 L408.7,484.7 L413.1,485.2 L413.8,484.7 L417.5,485.3 L421.9,485.4 L426.3,485.0 L430.7,485.2 L435.1,485.0 L439.5,484.6 L443.1,485.5" stroke="#000" stroke-width="1.6"/>
<path d="M65.3,416.7 L69.7,415.7 L71.1,415.6 L74.1,417.4 L78.5,422.3 L80.2,423.2 L82.9,423.9 L87.3,425.2 L87.7,425.1 L91.7,429.3 L94.6,432.1 L96.1,431.9 L99.8,432.5 L100.5,432.1 L104.9,433.1 L109.3,434.2 L113.7,435.8 L118.1,437.2 L122.5,439.2 L126.9,440.6 L126.9,440.2 L131.3,442.5 L135.7,443.6 L140.1,446.3 L144.5,447.6 L148.9,450.0 L153.3,451.4 L153.8,451.7 L157.7,453.7 L162.1,454.8 L166.5,456.6 L170.9,458.6 L175.3,460.0 L179.7,461.0 L180.8,461.3 L184.1,461.3 L188.5,462.3 L192.9,462.7 L197.3,463.3 L201.7,463.6 L206.1,463.9 L208.3,463.3 L210.6,463.6 L215.0,463.1 L219.4,463.0 L223.8,462.7 L228.2,462.3 L232.6,462.1 L234.8,461.9 L237.0,462.0 L241.4,462.0 L245.8,462.3 L250.2,462.1 L254.6,461.5 L259.0,462.1 L259.7,462.2 L263.4,462.5 L267.8,464.6 L272.2,468.6 L276.6,471.9 L281.0,475.2 L281.7,475.9 L285.4,477.7 L289.8,480.9 L294.2,483.2 L296.4,484.2 L298.6,484.4 L303.0,485.5 L307.4,486.0 L311.1,486.4 L311.8,486.4 L316.2,485.8 L320.6,486.2 L325.0,486.0 L325.8,486.1 L329.4,486.2 L333.8,486.2 L338.2,485.8 L342.6,486.0 L347.0,485.9 L351.4,485.7 L355.1,485.4 L355.8,485.5 L360.2,485.5 L364.6,485.7 L369.0,485.8 L373.4,485.2 L377.8,485.1 L382.2,485.3 L384.4,485.1 L386.7,485.0 L391.1,484.9 L395.5,484.8 L399.9,485.1 L404.3,484.5 L408.7,485.2 L413.1,484.6 L413.8,484.7 L417.5,484.6 L421.9,484.4 L426.3,484.5 L430.7,485.3 L435.1,485.5 L439.5,484.9 L443.1,485.5" stroke="#f00" stroke-width="1.6"/>
<path d="M65.3,411.9 L69.7,413.6 L74.1,416.1 L78.5,418.1 L82.9,419.3 L87.3,421.1 L91.7,422.9 L96.1,424.5 L99.8,426.1 L100.5,426.5 L104.9,427.8 L109.3,429.4 L113.7,431.1 L118.1,432.0 L122.5,433.6 L126.9,435.1 L126.9,435.5 L131.3,437.1 L135.7,439.1 L140.1,441.0 L144.5,442.7 L148.9,444.9 L153.3,446.4 L153.8,446.6 L157.7,447.8 L162.1,450.5 L166.5,451.8 L170.9,453.8 L175.3,455.2 L179.7,456.6 L180.8,456.5 L184.1,456.7 L188.5,457.4 L192.9,457.9 L197.3,458.3 L201.7,458.3 L206.1,458.9 L208.3,459.5 L210.6,459.2 L215.0,459.7 L219.4,460.2 L223.8,459.6 L228.2,459.2 L232.6,459.7 L234.8,460.1 L237.0,460.2 L241.4,459.9 L245.8,460.5 L250.2,461.0 L254.6,461.6 L259.0,462.2 L259.7,462.2 L263.4,463.3 L267.8,465.7 L272.2,468.9 L276.6,471.6 L281.0,474.8 L281.7,474.8 L285.4,477.7 L289.8,480.4 L294.2,482.8 L296.4,483.9 L298.6,483.7 L303.0,484.8 L307.4,486.0 L311.1,485.9 L311.8,486.0 L316.2,486.8 L320.6,486.0 L325.0,486.1 L325.8,486.1 L329.4,486.4 L333.8,486.1 L338.2,486.0 L342.6,485.6 L347.0,485.7 L351.4,485.7 L355.1,485.3 L355.8,485.8 L360.2,485.7 L364.6,486.0 L369.0,485.1 L373.4,485.2 L377.8,485.1 L382.2,485.1 L384.4,485.2 L386.7,485.2 L391.1,485.2 L395.5,485.1 L399.9,485.0 L404.3,484.5 L408.7,484.7 L413.1,484.8 L413.8,485.0 L417.5,485.0 L421.9,484.5 L426.3,484.8 L430.7,485.0 L435.1,485.1 L439.5,485.4 L443.1,485.3" stroke="#0f0" stroke-width="1.6"/>
<path d="M65.3,405.7 L69.7,412.7 L72.8,414.5 L74.1,414.4 L78.5,413.7 L80.2,414.0 L82.9,414.9 L87.3,418.7 L87.7,418.5 L91.7,419.5 L95.4,419.8 L96.1,419.8 L99.8,422.2 L100.5,422.5 L104.9,423.8 L109.3,425.2 L113.7,426.6 L118.1,427.3 L122.5,428.2 L126.9,430.2 L126.9,430.2 L131.3,432.1 L135.7,433.7 L140.1,436.1 L144.5,438.2 L148.9,439.6 L153.3,442.1 L153.8,441.7 L157.7,443.2 L162.1,445.5 L166.5,447.2 L170.9,448.6 L175.3,450.6 L179.7,451.7 L180.8,452.1 L184.1,452.3 L188.5,452.5 L192.9,453.2 L197.3,454.1 L201.7,454.5 L206.1,454.7 L208.3,454.6 L210.6,454.9 L215.0,455.0 L219.4,455.2 L223.8,455.5 L228.2,455.6 L232.6,455.8 L234.8,456.0 L237.0,456.1 L241.4,456.4 L245.8,457.6 L250.2,458.9 L254.6,460.7 L259.0,461.6 L259.7,462.4 L263.4,463.8 L267.8,465.6 L272.2,468.4 L276.6,471.5 L281.0,474.6 L281.7,474.7 L285.4,477.3 L289.8,480.0 L294.2,482.2 L296.4,483.5 L298.6,484.3 L303.0,485.5 L307.4,485.9 L311.1,486.1 L311.8,486.4 L316.2,486.1 L320.6,486.4 L325.0,485.8 L325.8,485.8 L329.4,485.8 L333.8,486.2 L338.2,485.8 L342.6,485.9 L347.0,485.9 L351.4,485.8 L355.1,486.0 L355.8,486.0 L360.2,485.4 L364.6,485.6 L369.0,485.4 L373.4,485.2 L377.8,485.8 L382.2,485.5 L384.4,485.2 L386.7,485.1 L391.1,485.2 L395.5,484.8 L399.9,484.9 L404.3,485.2 L408.7,485.1 L413.1,484.6 L413.8,484.7 L417.5,485.3 L421.9,484.5 L426.3,484.8 L430.7,484.6 L435.1,485.1 L439.5,485.2 L443.1,485.5" stroke="#00f" stroke-width="1.6"/>
<path d="M65.3,403.6 L69.7,406.0 L74.1,407.2 L78.5,409.3 L82.9,410.7 L87.3,412.7 L91.7,413.9 L96.1,415.1 L99.8,416.9 L100.5,416.5 L104.9,418.1 L109.3,419.8 L113.7,420.9 L118.1,422.3 L122.5,423.5 L126.9,425.2 L126.9,425.3 L131.3,426.8 L135.7,428.9 L140.1,430.9 L144.5,432.6 L148.9,434.3 L153.3,436.7 L153.8,436.5 L157.7,438.2 L162.1,440.0 L166.5,441.2 L170.9,443.1 L175.3,444.0 L179.7,445.8 L180.8,445.7 L184.1,446.6 L188.5,447.7 L192.9,448.2 L197.3,449.1 L201.7,449.6 L206.1,450.3 L208.3,450.8 L210.6,450.7 L215.0,450.9 L219.4,450.9 L223.8,451.6 L228.2,451.6 L232.6,452.4 L234.8,452.0 L237.0,452.8 L241.4,454.0 L245.8,455.0 L250.2,456.5 L254.6,459.1 L259.0,461.0 L259.7,461.3 L263.4,463.2 L267.8,465.3 L272.2,468.4 L276.6,471.2 L281.0,473.6 L281.7,474.4 L285.4,476.5 L289.8,480.0 L294.2,482.6 L296.4,483.6 L298.6,483.3 L303.0,485.1 L307.4,485.8 L311.1,486.1 L311.8,486.1 L316.2,486.1 L320.6,485.6 L325.0,486.4 L325.8,486.5 L329.4,486.3 L333.8,486.4 L338.2,485.8 L342.6,485.7 L347.0,486.1 L351.4,486.1 L355.1,485.8 L355.8,485.3 L360.2,486.3 L364.6,485.4 L369.0,485.7 L373.4,485.1 L377.8,485.6 L382.2,485.4 L384.4,485.6 L386.7,485.5 L391.1,484.8 L395.5,484.8 L399.9,485.1 L404.3,485.1 L408.7,485.3 L413.1,484.9 L413.8,484.8 L417.5,484.9 L421.9,484.9 L426.3,485.2 L430.7,485.0 L435.1,485.1 L439.5,484.8 L443.1,484.8" stroke="#ffa500" stroke-width="1.6"/>
<path d="M65.3,399.2 L69.7,401.5 L74.1,403.4 L78.5,405.5 L82.9,407.4 L87.3,409.0 L91.7,411.0 L96.1,412.2 L99.8,413.6 L100.5,413.8 L104.9,415.2 L109.3,416.6 L113.7,417.8 L118.1,418.7 L122.5,420.0 L126.9,421.2 L126.9,421.2 L131.3,423.1 L135.7,424.5 L140.1,426.7 L144.5,428.3 L148.9,430.1 L153.3,432.2 L153.8,431.8 L157.7,433.2 L162.1,434.9 L166.5,436.6 L170.9,438.1 L175.3,439.6 L179.7,440.6 L180.8,440.9 L184.1,441.4 L188.5,442.6 L192.9,443.0 L197.3,443.7 L201.7,444.4 L206.1,445.2 L208.3,445.3 L210.6,446.1 L215.0,446.2 L219.4,446.8 L223.8,447.3 L228.2,447.9 L232.6,448.9 L234.8,449.3 L237.0,449.6 L241.4,451.2 L245.8,453.2 L250.2,455.9 L254.6,457.7 L259.0,460.0 L259.7,460.4 L263.4,462.6 L267.8,465.8 L272.2,467.9 L276.6,471.0 L281.0,474.4 L281.7,474.1 L285.4,477.1 L289.8,480.1 L294.2,482.4 L296.4,482.8 L298.6,483.9 L303.0,484.9 L307.4,485.4 L311.1,485.7 L311.8,486.1 L316.2,486.2 L320.6,486.4 L325.0,486.3 L325.8,486.0 L329.4,486.0 L333.8,486.0 L338.2,485.7 L342.6,486.1 L347.0,485.8 L351.4,485.5 L355.1,485.5 L355.8,485.4 L360.2,485.5 L364.6,485.6 L369.0,485.4 L373.4,485.7 L377.8,485.8 L382.2,485.1 L384.4,485.3 L386.7,485.1 L391.1,485.6 L395.5,485.1 L399.9,485.1 L404.3,485.1 L408.7,485.4 L413.1,484.9 L413.8,484.6 L417.5,484.7 L421.9,485.0 L426.3,484.9 L430.7,484.8 L435.1,485.8 L439.5,485.2 L443.1,485.1" stroke="#0ff" stroke-width="1.6"/>
<path d="M65.3,396.9 L69.7,398.4 L74.1,400.2 L78.5,402.1 L82.9,403.8 L87.3,405.2 L91.7,407.1 L96.1,408.5 L99.8,409.5 L100.5,409.5 L104.9,411.5 L109.3,412.8 L113.7,414.0 L118.1,415.0 L122.5,416.8 L126.9,417.9 L126.9,418.5 L131.3,420.0 L135.7,421.9 L140.1,423.6 L144.5,425.5 L148.9,428.1 L153.3,429.8 L153.8,429.6 L157.7,431.4 L162.1,433.3 L166.5,434.4 L170.9,436.1 L175.3,437.5 L179.7,438.9 L180.8,438.8 L184.1,439.8 L188.5,440.3 L192.9,441.6 L197.3,442.2 L201.7,442.6 L206.1,443.5 L208.3,443.5 L210.6,444.0 L215.0,444.9 L219.4,445.2 L223.8,446.0 L228.2,446.3 L232.6,447.6 L234.8,448.1 L237.0,448.3 L241.4,449.7 L245.8,451.8 L250.2,454.8 L254.6,457.3 L259.0,459.4 L259.7,460.3 L263.4,462.6 L267.8,465.0 L272.2,467.7 L276.6,470.8 L281.0,473.8 L281.7,474.2 L285.4,476.1 L289.8,479.4 L294.2,481.8 L296.4,482.7 L298.6,483.3 L303.0,484.9 L307.4,485.7 L311.1,486.3 L311.8,486.2 L316.2,486.4 L320.6,485.8 L325.0,486.1 L325.8,486.3 L329.4,486.2 L333.8,486.1 L338.2,485.8 L342.6,486.3 L347.0,486.1 L351.4,485.8 L355.1,485.0 L355.8,485.4 L360.2,485.6 L364.6,485.4 L369.0,485.0 L373.4,485.5 L377.8,485.4 L382.2,485.0 L384.4,485.1 L386.7,485.0 L391.1,485.3 L395.5,484.6 L399.9,484.5 L404.3,484.8 L408.7,484.7 L413.1,485.3 L413.8,484.7 L417.5,484.9 L421.9,484.7 L426.3,484.7 L430.7,485.1 L435.1,485.5 L439.5,485.1 L443.1,485.4" stroke="#bc8f8f" stroke-width="1.6"/>
<path d="M65.3,391.6 L69.7,393.8 L74.1,395.7 L78.5,398.2 L82.9,399.2 L87.3,401.3 L91.7,402.9 L96.1,404.5 L99.8,406.4 L100.5,407.1 L104.9,408.5 L109.3,410.0 L113.7,411.3 L118.1,412.6 L122.5,414.6 L126.9,415.6 L126.9,416.1 L131.3,417.4 L135.7,419.5 L140.1,421.6 L144.5,423.6 L148.9,425.7 L153.3,427.6 L153.8,428.0 L157.7,429.2 L162.1,430.4 L166.5,432.1 L170.9,433.8 L175.3,435.4 L179.7,436.9 L180.8,436.5 L184.1,437.6 L188.5,438.3 L192.9,439.0 L197.3,439.5 L201.7,440.2 L206.1,440.8 L208.3,441.4 L210.6,441.7 L215.0,441.8 L219.4,443.3 L223.8,444.2 L228.2,445.1 L232.6,446.2 L234.8,447.4 L237.0,447.9 L241.4,449.5 L245.8,451.8 L250.2,454.3 L254.6,456.5 L259.0,459.6 L259.7,459.8 L263.4,462.1 L267.8,464.2 L272.2,467.9 L276.6,470.3 L281.0,473.1 L281.7,473.2 L285.4,475.6 L289.8,478.4 L294.2,481.7 L296.4,482.1 L298.6,483.2 L303.0,484.8 L307.4,485.6 L311.1,486.3 L311.8,486.6 L316.2,486.2 L320.6,486.5 L325.0,486.3 L325.8,486.0 L329.4,486.0 L333.8,485.6 L338.2,486.0 L342.6,486.3 L347.0,486.0 L351.4,486.0 L355.1,486.0 L355.8,485.6 L360.2,485.8 L364.6,486.0 L369.0,485.3 L373.4,485.4 L377.8,485.3 L382.2,485.3 L384.4,485.1 L386.7,485.2 L391.1,484.8 L395.5,484.9 L399.9,484.9 L404.3,484.8 L408.7,485.2 L413.1,484.9 L413.8,484.9 L417.5,484.8 L421.9,485.2 L426.3,484.5 L430.7,484.9 L435.1,485.4 L439.5,485.6 L443.1,485.3" stroke="#9400d3" stroke-width="1.6"/>
<path d="M65.3,387.3 L69.7,389.9 L74.1,392.1 L78.5,394.5 L82.9,396.3 L87.3,398.5 L91.7,400.1 L96.1,401.5 L99.8,402.3 L100.5,403.5 L104.9,404.6 L109.3,405.8 L113.7,406.3 L118.1,407.8 L122.5,408.7 L126.9,409.8 L126.9,410.0 L131.3,411.4 L135.7,412.9 L140.1,415.0 L144.5,416.5 L148.9,417.9 L153.3,419.3 L153.8,419.6 L157.7,421.3 L162.1,422.3 L166.5,423.3 L170.9,424.6 L175.3,426.1 L179.7,427.5 L180.8,427.4 L184.1,428.7 L188.5,430.0 L192.9,431.1 L197.3,431.7 L201.7,433.2 L206.1,434.2 L208.3,435.3 L210.6,435.7 L215.0,437.5 L219.4,438.9 L223.8,439.8 L228.2,442.0 L232.6,444.1 L234.8,445.0 L237.0,445.9 L241.4,448.0 L245.8,450.9 L250.2,453.8 L254.6,456.2 L259.0,458.9 L259.7,459.4 L263.4,461.5 L267.8,464.9 L272.2,467.9 L276.6,471.6 L281.0,474.0 L281.7,474.1 L285.4,476.7 L289.8,479.5 L294.2,481.8 L296.4,482.3 L298.6,483.7 L303.0,485.1 L307.4,486.1 L311.1,486.3 L311.8,486.6 L316.2,486.4 L320.6,486.6 L325.0,486.5 L325.8,486.6 L329.4,486.8 L333.8,486.5 L338.2,486.2 L342.6,486.6 L347.0,486.3 L351.4,486.0 L355.1,486.4 L355.8,486.0 L360.2,486.3 L364.6,485.7 L369.0,485.3 L373.4,485.3 L377.8,485.8 L382.2,485.5 L384.4,485.6 L386.7,485.6 L391.1,485.2 L395.5,485.8 L399.9,485.1 L404.3,485.3 L408.7,484.9 L413.1,485.2 L413.8,485.4 L417.5,485.2 L421.9,485.1 L426.3,485.2 L430.7,485.1 L435.1,485.4 L439.5,485.8 L443.1,485.0" stroke="#000" stroke-width="2.6"/>
<path d="M65.3,388.4 L69.7,390.9 L74.1,393.1 L78.5,395.0 L82.9,397.3 L87.3,399.2 L91.7,400.8 L96.1,402.0 L99.8,403.8 L100.5,403.3 L104.9,405.0 L109.3,406.1 L113.7,406.4 L118.1,407.7 L122.5,409.0 L126.9,409.9 L126.9,409.5 L131.3,410.9 L135.7,412.8 L140.1,414.3 L144.5,416.0 L148.9,418.0 L153.3,419.3 L153.8,419.5 L157.7,420.9 L162.1,422.3 L166.5,423.5 L170.9,424.8 L175.3,426.2 L179.7,427.4 L180.8,427.3 L184.1,428.5 L188.5,429.5 L192.9,430.5 L197.3,431.8 L201.7,432.6 L206.1,434.7 L208.3,435.0 L210.6,436.0 L215.0,437.0 L219.4,438.7 L223.8,441.4 L228.2,443.0 L232.6,444.6 L234.8,445.6 L237.0,446.7 L241.4,449.3 L245.8,451.8 L250.2,454.6 L254.6,457.6 L259.0,460.3 L259.7,461.7 L263.4,463.6 L267.8,467.6 L272.2,470.7 L276.6,474.4 L281.0,477.4 L281.7,477.5 L285.4,479.7 L289.8,481.6 L294.2,483.5 L296.4,484.0 L298.6,484.7 L303.0,486.5 L307.4,488.4 L311.1,488.8 L311.8,489.1 L316.2,489.5 L320.6,489.6 L325.0,489.6 L325.8,490.0 L329.4,490.0 L333.8,489.9 L338.2,489.7 L342.6,489.8 L347.0,489.1 L351.4,489.3 L355.1,489.0 L355.8,489.3 L360.2,488.8 L364.6,488.6 L369.0,488.6 L373.4,487.8 L377.8,488.0 L382.2,487.4 L384.4,487.6 L386.7,487.9 L391.1,487.6 L395.5,487.1 L399.9,486.9 L404.3,486.7 L408.7,486.7 L413.1,487.0 L413.8,486.6 L417.5,487.1 L421.9,486.4 L426.3,486.7 L430.7,486.8 L435.1,486.7 L439.5,486.7 L443.1,487.3" stroke="#f00" stroke-width="1.6"/>
<path d="M65.3,395.0 L69.7,396.3 L74.1,398.1 L78.5,399.3 L82.9,400.1 L87.3,402.1 L91.7,403.0 L96.1,404.8 L99.8,405.5 L100.5,405.8 L104.9,406.9 L109.3,407.8 L113.7,408.5 L118.1,410.0 L122.5,411.1 L126.9,412.6 L126.9,412.2 L131.3,413.8 L135.7,415.0 L140.1,416.8 L144.5,418.0 L148.9,420.5 L153.3,421.6 L153.8,421.4 L157.7,423.0 L162.1,424.4 L166.5,425.6 L170.9,427.2 L175.3,428.1 L179.7,428.8 L180.8,429.4 L184.1,431.0 L188.5,432.2 L192.9,433.3 L197.3,434.1 L201.7,435.9 L206.1,437.2 L208.3,437.5 L210.6,438.3 L215.0,440.1 L219.4,441.9 L223.8,443.6 L228.2,445.2 L232.6,447.5 L234.8,447.7 L237.0,449.2 L241.4,451.2 L245.8,453.4 L250.2,456.4 L254.6,459.9 L259.0,462.5 L259.7,462.9 L263.4,466.4 L267.8,470.6 L272.2,474.7 L276.6,479.1 L281.0,481.5 L281.7,482.9 L285.4,484.3 L289.8,485.8 L294.2,487.4 L296.4,488.2 L298.6,489.2 L303.0,491.6 L307.4,493.3 L311.1,495.1 L311.8,494.7 L316.2,495.4 L320.6,495.6 L325.0,495.8 L325.8,496.1 L329.4,495.7 L330.2,495.2 L333.8,495.0 L338.2,494.7 L342.6,493.5 L347.0,493.0 L351.4,493.5 L355.1,492.8 L355.8,492.2 L360.2,492.4 L364.6,492.3 L369.0,492.3 L373.4,492.2 L377.8,491.9 L382.2,491.8 L384.4,491.4 L386.7,491.6 L391.1,491.4 L395.5,491.3 L399.9,490.8 L403.5,491.0 L404.3,490.8 L408.7,490.8 L410.9,491.1 L413.1,490.4 L417.5,488.2 L418.2,488.2 L421.9,490.2 L425.5,492.1 L426.3,491.8 L430.7,492.3 L435.1,491.6 L439.5,491.8 L443.1,491.8" stroke="#0f0" stroke-width="1.6"/>
<path d="M65.3,397.6 L69.7,399.0 L74.1,400.1 L78.5,401.6 L82.9,402.5 L87.3,404.2 L91.7,405.9 L96.1,406.8 L99.8,408.2 L100.5,407.9 L104.9,408.8 L109.3,410.1 L113.7,411.8 L118.1,412.9 L122.5,413.5 L126.9,415.2 L126.9,415.3 L131.3,416.5 L135.7,417.7 L140.1,419.5 L144.5,421.4 L148.9,422.9 L153.3,424.3 L153.8,424.8 L157.7,426.1 L162.1,427.1 L166.5,428.5 L170.9,429.5 L175.3,430.7 L179.7,431.4 L180.8,432.5 L184.1,433.3 L188.5,434.6 L192.9,435.7 L197.3,436.9 L201.7,438.7 L206.1,440.2 L208.3,441.1 L210.6,441.7 L215.0,442.9 L219.4,444.7 L223.8,446.7 L228.2,448.4 L232.6,450.3 L234.8,451.2 L237.0,452.6 L241.4,454.8 L245.8,457.8 L250.2,460.4 L254.6,462.6 L259.0,466.6 L259.7,466.7 L263.4,469.5 L267.8,473.9 L272.2,478.5 L276.6,482.4 L281.0,485.7 L281.7,486.1 L285.4,488.4 L289.8,489.9 L294.2,491.8 L296.4,492.6 L298.6,493.4 L303.0,495.5 L307.4,497.4 L311.1,498.9 L311.8,498.7 L316.2,499.6 L320.6,500.3 L325.0,500.6 L325.8,501.0 L329.4,501.0 L330.2,500.7 L333.8,501.2 L338.2,500.4 L342.6,500.0 L347.0,499.2 L351.4,498.9 L355.1,498.2 L355.8,497.9 L360.2,497.1 L364.6,496.5 L369.0,496.2 L373.4,495.7 L377.8,495.4 L382.2,494.7 L384.4,494.6 L386.7,494.2 L391.1,493.6 L395.5,493.7 L399.9,493.8 L404.3,493.5 L405.0,493.7 L408.7,495.0 L409.4,494.7 L413.1,496.3 L416.7,497.5 L417.5,496.8 L421.9,493.1 L424.1,492.6 L426.3,492.9 L430.7,494.1 L431.4,494.1 L435.1,494.4 L439.5,494.6 L443.1,494.7" stroke="#ffa500" stroke-width="1.6"/>
<path d="M65.3,399.7 L69.7,403.4 L72.8,404.5 L74.1,404.9 L78.5,403.3 L80.2,402.9 L82.9,404.5 L87.3,408.1 L87.7,408.6 L91.7,409.5 L95.4,409.4 L96.1,409.8 L99.8,411.0 L100.5,411.0 L104.9,412.2 L109.3,413.6 L113.7,415.6 L118.1,416.3 L122.5,417.5 L126.9,418.9 L126.9,418.6 L131.3,419.7 L135.7,421.5 L140.1,423.1 L144.5,423.7 L148.9,425.7 L153.3,427.3 L153.8,427.1 L157.7,428.3 L162.1,430.0 L166.5,430.9 L170.9,432.6 L175.3,434.1 L179.7,435.3 L180.8,435.4 L184.1,436.9 L188.5,438.0 L192.9,439.5 L197.3,440.2 L201.7,442.6 L206.1,443.7 L208.3,445.0 L210.6,445.9 L215.0,447.8 L219.4,450.0 L223.8,452.3 L228.2,455.0 L232.6,457.6 L234.8,458.7 L237.0,459.5 L241.4,461.5 L245.8,463.3 L250.2,465.5 L254.6,467.6 L259.0,470.0 L259.7,470.8 L263.4,473.9 L267.8,477.8 L272.2,482.3 L276.6,485.7 L281.0,490.0 L281.7,490.0 L285.4,492.6 L289.8,495.0 L294.2,497.5 L296.4,498.8 L298.6,499.9 L303.0,502.1 L307.4,503.7 L311.1,504.5 L311.8,504.3 L316.2,503.9 L320.6,504.8 L325.0,504.3 L325.8,504.6 L329.4,503.6 L330.2,503.3 L333.8,502.8 L338.2,501.7 L342.6,501.4 L347.0,499.9 L347.8,500.2 L351.4,499.4 L355.8,498.9 L360.2,499.1 L364.6,498.1 L369.0,497.3 L373.4,496.4 L374.2,496.6 L377.8,496.1 L382.2,495.8 L386.7,494.7 L387.4,494.5 L391.1,495.0 L395.5,495.1 L399.9,495.6 L404.3,495.1 L407.9,494.7 L408.7,495.4 L413.1,498.4 L417.0,500.8 L417.5,501.1 L421.9,492.5 L424.8,489.4 L426.3,489.8 L430.7,497.8 L435.1,508.3 L439.3,513.6 L439.5,513.6 L443.1,509.6" stroke="#00f" stroke-width="1.6"/>
<path d="M65.3,502.2 L67.2,502.8 L69.1,503.5 L70.9,504.1 L72.8,504.7 L74.7,505.2 L76.6,505.8 L78.5,506.4 L80.4,506.9 L82.3,507.5 L84.2,508.0 L86.1,508.5 L88.0,509.1 L89.9,509.6 L91.8,510.1 L93.7,510.6 L95.6,511.1 L97.4,511.6 L99.3,512.2 L101.2,512.7 L103.1,513.2 L105.0,513.6 L106.9,514.1 L108.8,514.4 L110.7,514.7 L112.6,514.9 L114.5,515.0 L116.4,515.2 L118.3,515.2 L120.2,515.3 L122.1,515.4 L124.0,515.5 L125.8,515.5 L127.7,515.6 L129.6,515.7 L131.5,515.9 L133.4,516.0 L135.3,516.3 L137.2,516.5 L139.1,516.8 L141.0,517.2 L142.9,517.6 L144.8,518.0 L146.7,518.4 L148.6,518.8 L150.5,519.3 L152.3,519.8 L154.2,520.3 L156.1,520.8 L158.0,521.2 L159.9,521.7 L161.8,522.2 L163.7,522.7 L165.6,523.1 L167.5,523.5 L169.4,524.0 L171.3,524.3 L173.2,524.7 L175.1,525.0 L177.0,525.3 L178.8,525.5 L180.7,525.7 L182.6,525.8 L184.5,525.9 L186.4,526.0 L188.3,525.9 L190.2,525.8 L192.1,525.7 L194.0,525.5 L195.9,525.3 L197.8,525.0 L199.7,524.7 L201.6,524.4 L203.5,524.0 L205.3,523.7 L207.2,523.3 L209.1,522.9 L211.0,522.5 L212.9,522.1 L214.8,521.6 L216.7,521.0 L218.6,520.4 L220.5,519.7 L222.4,519.0 L224.3,518.2 L226.2,517.5 L228.1,516.7 L230.0,515.9 L231.8,515.1 L233.7,514.2 L235.6,513.3 L237.5,512.3 L239.4,511.4 L241.3,510.4 L243.2,509.4 L245.1,508.3 L247.0,507.1 L248.9,506.0 L250.8,504.8 L252.7,503.7 L254.6,502.6 L256.5,501.6 L258.3,500.7 L260.2,499.7 L262.1,498.7 L264.0,497.8 L265.9,496.8 L267.8,495.9 L269.7,495.0 L271.6,494.2 L273.5,493.4 L275.4,492.7 L277.3,492.2 L279.2,491.7 L281.1,491.3 L283.0,491.0 L284.9,490.8 L286.7,490.5 L288.6,490.3 L290.5,490.1" stroke="#000" stroke-width="1.6" stroke-dasharray="8,4"/>
<path d="M65.3,504.3 L67.2,504.9 L69.1,505.5 L70.9,506.1 L72.8,506.7 L74.7,507.2 L76.6,507.8 L78.5,508.3 L80.4,508.8 L82.3,509.3 L84.2,509.8 L86.1,510.3 L88.0,510.8 L89.9,511.3 L91.8,511.7 L93.7,512.2 L95.6,512.7 L97.4,513.2 L99.3,513.7 L101.2,514.1 L103.1,514.6 L105.0,515.0 L106.9,515.4 L108.8,515.7 L110.7,516.0 L112.6,516.2 L114.5,516.3 L116.4,516.4 L118.3,516.5 L120.2,516.6 L122.1,516.7 L124.0,516.7 L125.8,516.8 L127.7,516.9 L129.6,517.0 L131.5,517.1 L133.4,517.3 L135.3,517.5 L137.2,517.8 L139.1,518.1 L141.0,518.4 L142.9,518.7 L144.8,519.1 L146.7,519.5 L148.6,519.9 L150.5,520.3 L152.3,520.8 L154.2,521.2 L156.1,521.6 L158.0,522.1 L159.9,522.5 L161.8,523.0 L163.7,523.4 L165.6,523.8 L167.5,524.2 L169.4,524.6 L171.3,524.9 L173.2,525.2 L175.1,525.5 L177.0,525.8 L178.8,526.0 L180.7,526.2 L182.6,526.3 L184.5,526.4 L186.4,526.4 L188.3,526.3 L190.2,526.3 L192.1,526.1 L194.0,525.9 L195.9,525.7 L197.8,525.4 L199.7,525.1 L201.6,524.8 L203.5,524.5 L205.3,524.1 L207.2,523.7 L209.1,523.3 L211.0,523.0 L212.9,522.5 L214.8,522.0 L216.7,521.4 L218.6,520.8 L220.5,520.1 L222.4,519.4 L224.3,518.7 L226.2,517.9 L228.1,517.2 L230.0,516.4 L231.8,515.5 L233.7,514.6 L235.6,513.7 L237.5,512.7 L239.4,511.8 L241.3,510.8 L243.2,509.8 L245.1,508.7 L247.0,507.5 L248.9,506.4 L250.8,505.2 L252.7,504.1 L254.6,503.0 L256.5,502.0 L258.3,501.1 L260.2,500.1 L262.1,499.2 L264.0,498.2 L265.9,497.3 L267.8,496.4 L269.7,495.5 L271.6,494.7 L273.5,493.9 L275.4,493.2 L277.3,492.6 L279.2,492.1 L281.1,491.7 L283.0,491.4 L284.9,491.1 L286.7,490.9 L288.6,490.6 L290.5,490.3" stroke="#f00" stroke-width="1.6" stroke-dasharray="8,4"/>
<path d="M65.3,506.0 L67.2,506.6 L69.1,507.2 L70.9,507.7 L72.8,508.2 L74.7,508.8 L76.6,509.3 L78.5,509.8 L80.4,510.3 L82.3,510.8 L84.2,511.2 L86.1,511.7 L88.0,512.1 L89.9,512.6 L91.8,513.0 L93.7,513.4 L95.6,513.9 L97.4,514.3 L99.3,514.8 L101.2,515.2 L103.1,515.6 L105.0,516.0 L106.9,516.3 L108.8,516.6 L110.7,516.8 L112.6,517.0 L114.5,517.2 L116.4,517.3 L118.3,517.4 L120.2,517.4 L122.1,517.5 L124.0,517.6 L125.8,517.6 L127.7,517.7 L129.6,517.8 L131.5,518.0 L133.4,518.1 L135.3,518.4 L137.2,518.6 L139.1,518.9 L141.0,519.2 L142.9,519.5 L144.8,519.9 L146.7,520.2 L148.6,520.6 L150.5,521.0 L152.3,521.5 L154.2,521.9 L156.1,522.3 L158.0,522.7 L159.9,523.1 L161.8,523.6 L163.7,524.0 L165.6,524.4 L167.5,524.7 L169.4,525.1 L171.3,525.4 L173.2,525.7 L175.1,526.0 L177.0,526.2 L178.8,526.4 L180.7,526.6 L182.6,526.7 L184.5,526.8 L186.4,526.8 L188.3,526.8 L190.2,526.7 L192.1,526.5 L194.0,526.3 L195.9,526.1 L197.8,525.9 L199.7,525.6 L201.6,525.2 L203.5,524.9 L205.3,524.5 L207.2,524.1 L209.1,523.8 L211.0,523.4 L212.9,522.9 L214.8,522.4 L216.7,521.8 L218.6,521.2 L220.5,520.5 L222.4,519.8 L224.3,519.1 L226.2,518.4 L228.1,517.6 L230.0,516.8 L231.8,515.9 L233.7,515.0 L235.6,514.1 L237.5,513.2 L239.4,512.2 L241.3,511.2 L243.2,510.2 L245.1,509.1 L247.0,508.0 L248.9,506.8 L250.8,505.6 L252.7,504.5 L254.6,503.4 L256.5,502.4 L258.3,501.5 L260.2,500.6 L262.1,499.6 L264.0,498.7 L265.9,497.7 L267.8,496.8 L269.7,496.0 L271.6,495.2 L273.5,494.4 L275.4,493.7 L277.3,493.1 L279.2,492.6 L281.1,492.2 L283.0,491.8 L284.9,491.5 L286.7,491.2 L288.6,490.9 L290.5,490.6" stroke="#0f0" stroke-width="1.6" stroke-dasharray="8,4"/>
<path d="M65.3,508.1 L67.2,508.7 L69.1,509.2 L70.9,509.7 L72.8,510.2 L74.7,510.7 L76.6,511.2 L78.5,511.7 L80.4,512.2 L82.3,512.6 L84.2,513.1 L86.1,513.5 L88.0,513.9 L89.9,514.3 L91.8,514.7 L93.7,515.1 L95.6,515.5 L97.4,515.9 L99.3,516.3 L101.2,516.6 L103.1,517.0 L105.0,517.3 L106.9,517.6 L108.8,517.9 L110.7,518.1 L112.6,518.3 L114.5,518.4 L116.4,518.5 L118.3,518.6 L120.2,518.7 L122.1,518.8 L124.0,518.8 L125.8,518.9 L127.7,519.0 L129.6,519.1 L131.5,519.2 L133.4,519.4 L135.3,519.6 L137.2,519.8 L139.1,520.1 L141.0,520.4 L142.9,520.7 L144.8,521.0 L146.7,521.3 L148.6,521.7 L150.5,522.1 L152.3,522.4 L154.2,522.8 L156.1,523.2 L158.0,523.6 L159.9,524.0 L161.8,524.3 L163.7,524.7 L165.6,525.0 L167.5,525.4 L169.4,525.7 L171.3,526.0 L173.2,526.3 L175.1,526.5 L177.0,526.7 L178.8,526.9 L180.7,527.0 L182.6,527.1 L184.5,527.2 L186.4,527.2 L188.3,527.2 L190.2,527.1 L192.1,527.0 L194.0,526.8 L195.9,526.5 L197.8,526.3 L199.7,526.0 L201.6,525.6 L203.5,525.3 L205.3,524.9 L207.2,524.6 L209.1,524.2 L211.0,523.8 L212.9,523.4 L214.8,522.9 L216.7,522.3 L218.6,521.6 L220.5,521.0 L222.4,520.2 L224.3,519.5 L226.2,518.8 L228.1,518.0 L230.0,517.2 L231.8,516.4 L233.7,515.5 L235.6,514.5 L237.5,513.6 L239.4,512.6 L241.3,511.6 L243.2,510.6 L245.1,509.5 L247.0,508.4 L248.9,507.2 L250.8,506.1 L252.7,504.9 L254.6,503.9 L256.5,502.9 L258.3,501.9 L260.2,501.0 L262.1,500.1 L264.0,499.1 L265.9,498.2 L267.8,497.3 L269.7,496.4 L271.6,495.6 L273.5,494.9 L275.4,494.2 L277.3,493.6 L279.2,493.0 L281.1,492.6 L283.0,492.2 L284.9,491.9 L286.7,491.6 L288.6,491.2 L290.5,490.9" stroke="#00f" stroke-width="1.6" stroke-dasharray="8,4"/>
<path d="M65.3,503.1 L67.2,503.6 L69.1,504.2 L70.9,504.8 L72.8,505.3 L74.7,505.9 L76.6,506.4 L78.5,507.0 L80.4,507.5 L82.3,508.0 L84.2,508.5 L86.1,509.0 L88.0,509.5 L89.9,510.0 L91.8,510.5 L93.7,511.0 L95.6,511.5 L97.4,512.0 L99.3,512.6 L101.2,513.1 L103.1,513.6 L105.0,514.1 L106.9,514.5 L108.8,514.8 L110.7,515.1 L112.6,515.3 L114.5,515.5 L116.4,515.6 L118.3,515.7 L120.2,515.7 L122.1,515.8 L124.0,515.9 L125.8,516.0 L127.7,516.0 L129.6,516.1 L131.5,516.3 L133.4,516.5 L135.3,516.7 L137.2,516.9 L139.1,517.2 L141.0,517.6 L142.9,517.9 L144.8,518.3 L146.7,518.7 L148.6,519.2 L150.5,519.6 L152.3,520.1 L154.2,520.5 L156.1,521.0 L158.0,521.5 L159.9,521.9 L161.8,522.4 L163.7,522.8 L165.6,523.2 L167.5,523.7 L169.4,524.0 L171.3,524.4 L173.2,524.7 L175.1,525.0 L177.0,525.3 L178.8,525.5 L180.7,525.7 L182.6,525.8 L184.5,525.9 L186.4,526.0 L188.3,525.9 L190.2,525.8 L192.1,525.7 L194.0,525.5 L195.9,525.3 L197.8,525.0 L199.7,524.7 L201.6,524.4 L203.5,524.0 L205.3,523.7 L207.2,523.3 L209.1,522.9 L211.0,522.5 L212.9,522.1 L214.8,521.6 L216.7,521.0 L218.6,520.4 L220.5,519.7 L222.4,519.0 L224.3,518.2 L226.2,517.5 L228.1,516.7 L230.0,515.9 L231.8,515.1 L233.7,514.2 L235.6,513.3 L237.5,512.3 L239.4,511.4 L241.3,510.4 L243.2,509.4 L245.1,508.3 L247.0,507.1 L248.9,506.0 L250.8,504.8 L252.7,503.7 L254.6,502.6 L256.5,501.6 L258.3,500.7 L260.2,499.7 L262.1,498.7 L264.0,497.8 L265.9,496.8 L267.8,495.9 L269.7,495.0 L271.6,494.2 L273.5,493.4 L275.4,492.7 L277.3,492.2 L279.2,491.7 L281.1,491.3 L283.0,491.0 L284.9,490.8 L286.7,490.5 L288.6,490.3 L290.5,490.1" stroke="#ffa500" stroke-width="1.6" stroke-dasharray="8,4"/>
<path d="M65.3,504.8 L67.2,505.3 L69.1,505.8 L70.9,506.4 L72.8,506.9 L74.7,507.4 L76.6,507.9 L78.5,508.4 L80.4,508.9 L82.3,509.4 L84.2,509.9 L86.1,510.4 L88.0,510.8 L89.9,511.3 L91.8,511.7 L93.7,512.2 L95.6,512.7 L97.4,513.2 L99.3,513.7 L101.2,514.1 L103.1,514.6 L105.0,515.0 L106.9,515.4 L108.8,515.7 L110.7,516.0 L112.6,516.2 L114.5,516.3 L116.4,516.4 L118.3,516.5 L120.2,516.6 L122.1,516.7 L124.0,516.7 L125.8,516.8 L127.7,516.9 L129.6,517.0 L131.5,517.1 L133.4,517.3 L135.3,517.5 L137.2,517.8 L139.1,518.1 L141.0,518.4 L142.9,518.7 L144.8,519.1 L146.7,519.5 L148.6,519.9 L150.5,520.3 L152.3,520.8 L154.2,521.2 L156.1,521.6 L158.0,522.1 L159.9,522.5 L161.8,523.0 L163.7,523.4 L165.6,523.8 L167.5,524.2 L169.4,524.6 L171.3,524.9 L173.2,525.2 L175.1,525.5 L177.0,525.8 L178.8,526.0 L180.7,526.2 L182.6,526.3 L184.5,526.4 L186.4,526.4 L188.3,526.3 L190.2,526.3 L192.1,526.1 L194.0,525.9 L195.9,525.7 L197.8,525.4 L199.7,525.1 L201.6,524.8 L203.5,524.5 L205.3,524.1 L207.2,523.7 L209.1,523.3 L211.0,523.0 L212.9,522.5 L214.8,522.0 L216.7,521.4 L218.6,520.8 L220.5,520.1 L222.4,519.4 L224.3,518.7 L226.2,517.9 L228.1,517.2 L230.0,516.4 L231.8,515.5 L233.7,514.6 L235.6,513.7 L237.5,512.7 L239.4,511.8 L241.3,510.8 L243.2,509.8 L245.1,508.7 L247.0,507.5 L248.9,506.4 L250.8,505.2 L252.7,504.1 L254.6,503.0 L256.5,502.0 L258.3,501.1 L260.2,500.1 L262.1,499.2 L264.0,498.2 L265.9,497.3 L267.8,496.4 L269.7,495.5 L271.6,494.7 L273.5,493.9 L275.4,493.2 L277.3,492.6 L279.2,492.1 L281.1,491.7 L283.0,491.4 L284.9,491.1 L286.7,490.9 L288.6,490.6 L290.5,490.3" stroke="#0ff" stroke-width="1.6" stroke-dasharray="8,4"/>
<path d="M65.3,506.5 L67.2,507.0 L69.1,507.6 L70.9,508.1 L72.8,508.7 L74.7,509.2 L76.6,509.7 L78.5,510.2 L80.4,510.7 L82.3,511.2 L84.2,511.7 L86.1,512.1 L88.0,512.6 L89.9,513.0 L91.8,513.4 L93.7,513.9 L95.6,514.3 L97.4,514.7 L99.3,515.2 L101.2,515.6 L103.1,516.0 L105.0,516.4 L106.9,516.7 L108.8,517.0 L110.7,517.3 L112.6,517.4 L114.5,517.6 L116.4,517.7 L118.3,517.8 L120.2,517.9 L122.1,517.9 L124.0,518.0 L125.8,518.1 L127.7,518.2 L129.6,518.3 L131.5,518.4 L133.4,518.6 L135.3,518.8 L137.2,519.0 L139.1,519.3 L141.0,519.6 L142.9,519.9 L144.8,520.2 L146.7,520.6 L148.6,521.0 L150.5,521.3 L152.3,521.7 L154.2,522.1 L156.1,522.5 L158.0,522.9 L159.9,523.3 L161.8,523.7 L163.7,524.1 L165.6,524.5 L167.5,524.8 L169.4,525.2 L171.3,525.5 L173.2,525.8 L175.1,526.0 L177.0,526.3 L178.8,526.4 L180.7,526.6 L182.6,526.7 L184.5,526.8 L186.4,526.8 L188.3,526.8 L190.2,526.7 L192.1,526.5 L194.0,526.3 L195.9,526.1 L197.8,525.9 L199.7,525.6 L201.6,525.2 L203.5,524.9 L205.3,524.5 L207.2,524.1 L209.1,523.8 L211.0,523.4 L212.9,522.9 L214.8,522.4 L216.7,521.8 L218.6,521.2 L220.5,520.5 L222.4,519.8 L224.3,519.1 L226.2,518.4 L228.1,517.6 L230.0,516.8 L231.8,515.9 L233.7,515.0 L235.6,514.1 L237.5,513.2 L239.4,512.2 L241.3,511.2 L243.2,510.2 L245.1,509.1 L247.0,508.0 L248.9,506.8 L250.8,505.6 L252.7,504.5 L254.6,503.4 L256.5,502.4 L258.3,501.5 L260.2,500.6 L262.1,499.6 L264.0,498.7 L265.9,497.7 L267.8,496.8 L269.7,496.0 L271.6,495.2 L273.5,494.4 L275.4,493.7 L277.3,493.1 L279.2,492.6 L281.1,492.2 L283.0,491.8 L284.9,491.5 L286.7,491.2 L288.6,490.9 L290.5,490.6" stroke="#bc8f8f" stroke-width="1.6" stroke-dasharray="8,4"/>
<path d="M65.3,509.4 L67.2,509.9 L69.1,510.4 L71.0,510.9 L72.9,511.4 L74.9,511.8 L76.8,512.3 L78.7,512.7 L80.6,513.2 L82.5,513.6 L84.4,514.0 L86.4,514.4 L88.3,514.8 L90.2,515.2 L92.1,515.6 L94.0,516.0 L96.0,516.4 L97.9,516.8 L99.8,517.2 L101.7,517.6 L103.6,517.9 L105.5,518.2 L107.5,518.6 L109.4,518.8 L111.3,519.0 L113.2,519.2 L115.1,519.3 L117.0,519.4 L119.0,519.5 L120.9,519.6 L122.8,519.7 L124.7,519.7 L126.6,519.8 L128.6,519.9 L130.5,520.0 L132.4,520.2 L134.3,520.3 L136.2,520.5 L138.1,520.8 L140.1,521.0 L142.0,521.3 L143.9,521.6 L145.8,521.9 L147.7,522.3 L149.6,522.6 L151.6,523.0 L153.5,523.3 L155.4,523.7 L157.3,524.1 L159.2,524.4 L161.1,524.8 L163.1,525.1 L165.0,525.5 L166.9,525.8 L168.8,526.1 L170.7,526.4 L172.7,526.7 L174.6,526.9 L176.5,527.1 L178.4,527.3 L180.3,527.4 L182.2,527.6 L184.2,527.6 L186.1,527.7 L188.0,527.6 L189.9,527.5 L191.8,527.4 L193.7,527.2 L195.7,527.0 L197.6,526.7 L199.5,526.4 L201.4,526.1 L203.3,525.7 L205.3,525.4 L207.2,525.0 L209.1,524.6 L211.0,524.2 L212.9,523.8 L214.8,523.3 L216.8,522.7 L218.7,522.0 L220.6,521.3 L222.5,520.6 L224.4,519.9 L226.3,519.1 L228.3,518.4 L230.2,517.6 L232.1,516.8 L234.0,515.9 L235.9,515.1 L237.9,514.2 L239.8,513.2 L241.7,512.3 L243.6,511.3 L245.5,510.3 L247.4,509.2 L249.4,508.1 L251.3,507.0 L253.2,505.9 L255.1,504.8 L257.0,503.9 L258.9,502.9 L260.9,501.9 L262.8,500.9 L264.7,499.9 L266.6,498.9 L268.5,497.9 L270.5,496.9 L272.4,496.1 L274.3,495.2 L276.2,494.5 L278.1,493.8 L280.0,493.3 L282.0,492.8 L283.9,492.5 L285.8,492.1 L287.7,491.7 L289.6,491.3 L291.5,491.0 L293.5,490.7" stroke="#9400d3" stroke-width="1.6" stroke-dasharray="8,4"/>
<path d="M65.3,513.7 L67.2,514.1 L69.2,514.5 L71.2,514.9 L73.1,515.4 L75.1,515.8 L77.1,516.2 L79.0,516.5 L81.0,516.9 L83.0,517.3 L84.9,517.7 L86.9,518.0 L88.9,518.4 L90.8,518.7 L92.8,519.1 L94.8,519.4 L96.7,519.8 L98.7,520.1 L100.7,520.5 L102.6,520.8 L104.6,521.2 L106.6,521.4 L108.5,521.7 L110.5,521.9 L112.5,522.1 L114.4,522.2 L116.4,522.3 L118.4,522.4 L120.3,522.5 L122.3,522.6 L124.3,522.7 L126.2,522.8 L128.2,522.8 L130.2,523.0 L132.1,523.1 L134.1,523.3 L136.1,523.5 L138.0,523.7 L140.0,524.0 L142.0,524.3 L143.9,524.6 L145.9,524.9 L147.9,525.3 L149.8,525.6 L151.8,526.0 L153.8,526.4 L155.7,526.7 L157.7,527.1 L159.7,527.5 L161.6,527.9 L163.6,528.2 L165.6,528.6 L167.5,528.9 L169.5,529.2 L171.5,529.5 L173.5,529.7 L175.4,530.0 L177.4,530.2 L179.4,530.3 L181.3,530.5 L183.3,530.6 L185.3,530.6 L187.2,530.6 L189.2,530.5 L191.2,530.4 L193.1,530.2 L195.1,529.9 L197.1,529.5 L199.0,529.1 L201.0,528.7 L203.0,528.3 L204.9,527.8 L206.9,527.3 L208.9,526.9 L210.8,526.4 L212.8,525.9 L214.8,525.2 L216.7,524.5 L218.7,523.7 L220.7,523.0 L222.6,522.2 L224.6,521.4 L226.6,520.8 L228.5,520.2 L230.5,519.6 L232.5,519.0 L234.4,518.5 L236.4,517.9 L238.4,517.3 L240.3,516.6 L242.3,515.9 L244.3,515.1 L246.2,514.2 L248.2,513.2 L250.2,512.2 L252.1,511.1 L254.1,510.1 L256.1,509.0 L258.0,508.0 L260.0,506.9 L262.0,505.7 L263.9,504.5 L265.9,503.3 L267.9,502.1 L269.8,500.9 L271.8,499.8 L273.8,498.7 L275.7,497.7 L277.7,496.8 L279.7,496.0 L281.6,495.5 L283.6,495.0 L285.6,494.5 L287.5,494.0 L289.5,493.5 L291.5,493.1 L293.4,492.6 L295.4,492.2 L297.4,491.8 L299.3,491.5" stroke="#000" stroke-width="2.6" stroke-dasharray="8,4"/>
<path d="M65.3,516.6 L67.3,517.1 L69.3,517.6 L71.3,518.0 L73.3,518.5 L75.4,518.9 L77.4,519.4 L79.4,519.8 L81.4,520.2 L83.4,520.6 L85.4,521.1 L87.4,521.5 L89.5,521.9 L91.5,522.2 L93.5,522.6 L95.5,523.1 L97.5,523.5 L99.5,523.9 L101.6,524.3 L103.6,524.7 L105.6,525.0 L107.6,525.4 L109.6,525.6 L111.6,525.8 L113.7,526.0 L115.7,526.1 L117.7,526.2 L119.7,526.3 L121.7,526.4 L123.7,526.5 L125.8,526.6 L127.8,526.6 L129.8,526.8 L131.8,526.9 L133.8,527.1 L135.8,527.3 L137.9,527.5 L139.9,527.8 L141.9,528.0 L143.9,528.3 L145.9,528.7 L147.9,529.0 L150.0,529.3 L152.0,529.7 L154.0,530.1 L156.0,530.4 L158.0,530.8 L160.0,531.1 L162.0,531.5 L164.1,531.8 L166.1,532.2 L168.1,532.5 L170.1,532.8 L172.1,533.0 L174.1,533.3 L176.2,533.5 L178.2,533.7 L180.2,533.8 L182.2,533.9 L184.2,534.0 L186.2,534.0 L188.3,534.0 L190.3,533.8 L192.3,533.6 L194.3,533.2 L196.3,532.8 L198.3,532.4 L200.4,531.9 L202.4,531.4 L204.4,530.9 L206.4,530.4 L208.4,529.9 L210.4,529.4 L212.5,529.0 L214.5,528.5 L216.5,528.1 L218.5,527.6 L220.5,527.1 L222.5,526.6 L224.6,526.0 L226.6,525.4 L228.6,524.8 L230.6,524.0 L232.6,523.3 L234.6,522.4 L236.7,521.6 L238.7,520.8 L240.7,519.9 L242.7,519.1 L244.7,518.3 L246.7,517.5 L248.7,516.7 L250.8,515.9 L252.8,515.1 L254.8,514.2 L256.8,513.3 L258.8,512.3 L260.8,511.2 L262.9,510.0 L264.9,508.8 L266.9,507.6 L268.9,506.3 L270.9,505.0 L272.9,503.8 L275.0,502.7 L277.0,501.7 L279.0,500.7 L281.0,499.9 L283.0,499.2 L285.0,498.6 L287.1,497.9 L289.1,497.3 L291.1,496.7 L293.1,496.0 L295.1,495.5 L297.1,494.9 L299.2,494.4 L301.2,493.9 L303.2,493.4 L305.2,492.9" stroke="#f00" stroke-width="1.6" stroke-dasharray="8,4"/>
<path d="M65.3,522.6 L67.4,523.0 L69.4,523.4 L71.5,523.8 L73.6,524.2 L75.7,524.6 L77.8,524.9 L79.9,525.3 L82.0,525.7 L84.1,526.1 L86.2,526.4 L88.3,526.8 L90.4,527.1 L92.4,527.5 L94.5,527.9 L96.6,528.2 L98.7,528.6 L100.8,529.0 L102.9,529.3 L105.0,529.7 L107.1,530.0 L109.2,530.3 L111.3,530.5 L113.3,530.6 L115.4,530.8 L117.5,530.9 L119.6,531.0 L121.7,531.1 L123.8,531.1 L125.9,531.2 L128.0,531.3 L130.1,531.4 L132.2,531.6 L134.2,531.8 L136.3,532.0 L138.4,532.2 L140.5,532.5 L142.6,532.8 L144.7,533.1 L146.8,533.5 L148.9,533.8 L151.0,534.2 L153.1,534.6 L155.2,534.9 L157.2,535.3 L159.3,535.7 L161.4,536.0 L163.5,536.4 L165.6,536.7 L167.7,537.1 L169.8,537.4 L171.9,537.7 L174.0,537.9 L176.1,538.1 L178.1,538.3 L180.2,538.5 L182.3,538.6 L184.4,538.7 L186.5,538.7 L188.6,538.6 L190.7,538.5 L192.8,538.3 L194.9,538.1 L197.0,537.8 L199.0,537.5 L201.1,537.1 L203.2,536.7 L205.3,536.3 L207.4,535.9 L209.5,535.5 L211.6,535.1 L213.7,534.7 L215.8,534.3 L217.9,533.7 L219.9,533.2 L222.0,532.6 L224.1,532.1 L226.2,531.5 L228.3,530.9 L230.4,530.2 L232.5,529.6 L234.6,528.9 L236.7,528.2 L238.8,527.4 L240.9,526.6 L242.9,525.8 L245.0,524.9 L247.1,524.0 L249.2,523.0 L251.3,522.0 L253.4,521.0 L255.5,519.9 L257.6,518.8 L259.7,517.6 L261.8,516.3 L263.8,515.0 L265.9,513.6 L268.0,512.1 L270.1,510.7 L272.2,509.3 L274.3,508.0 L276.4,506.8 L278.5,505.7 L280.6,504.8 L282.7,504.0 L284.7,503.3 L286.8,502.6 L288.9,501.8 L291.0,501.1 L293.1,500.5 L295.2,499.8 L297.3,499.2 L299.4,498.6 L301.5,498.1 L303.6,497.6 L305.6,497.1 L307.7,496.7 L309.8,496.3 L311.9,496.0 L314.0,495.7" stroke="#0f0" stroke-width="1.6" stroke-dasharray="8,4"/>
<path d="M65.3,526.4 L67.4,526.7 L69.6,527.1 L71.7,527.4 L73.9,527.8 L76.0,528.1 L78.2,528.4 L80.3,528.7 L82.5,529.0 L84.6,529.3 L86.8,529.6 L88.9,529.9 L91.1,530.2 L93.2,530.5 L95.4,530.8 L97.5,531.1 L99.7,531.4 L101.9,531.6 L104.0,531.9 L106.2,532.1 L108.3,532.4 L110.5,532.5 L112.6,532.7 L114.8,532.9 L116.9,533.0 L119.1,533.1 L121.2,533.1 L123.4,533.2 L125.5,533.3 L127.7,533.4 L129.8,533.5 L132.0,533.7 L134.1,533.9 L136.3,534.2 L138.4,534.5 L140.6,534.8 L142.7,535.2 L144.9,535.6 L147.0,536.0 L149.2,536.5 L151.3,536.9 L153.5,537.4 L155.6,537.9 L157.8,538.4 L160.0,538.8 L162.1,539.3 L164.3,539.8 L166.4,540.2 L168.6,540.6 L170.7,541.0 L172.9,541.4 L175.0,541.7 L177.2,541.9 L179.3,542.2 L181.5,542.3 L183.6,542.4 L185.8,542.5 L187.9,542.5 L190.1,542.5 L192.2,542.4 L194.4,542.3 L196.5,542.2 L198.7,542.1 L200.8,542.0 L203.0,541.8 L205.1,541.7 L207.3,541.5 L209.4,541.3 L211.6,541.1 L213.8,540.9 L215.9,540.5 L218.1,540.0 L220.2,539.5 L222.4,538.9 L224.5,538.3 L226.7,537.7 L228.8,537.0 L231.0,536.1 L233.1,535.2 L235.3,534.2 L237.4,533.2 L239.6,532.3 L241.7,531.4 L243.9,530.6 L246.0,529.8 L248.2,529.0 L250.3,528.2 L252.5,527.4 L254.6,526.5 L256.8,525.6 L258.9,524.5 L261.1,523.3 L263.2,521.9 L265.4,520.4 L267.5,518.9 L269.7,517.3 L271.9,515.8 L274.0,514.4 L276.2,513.0 L278.3,511.8 L280.5,510.8 L282.6,509.9 L284.8,509.2 L286.9,508.4 L289.1,507.6 L291.2,506.9 L293.4,506.2 L295.5,505.5 L297.7,504.8 L299.8,504.2 L302.0,503.6 L304.1,503.1 L306.3,502.6 L308.4,502.1 L310.6,501.8 L312.7,501.5 L314.9,501.2 L317.0,501.0 L319.2,500.9 L321.3,500.9" stroke="#ffa500" stroke-width="1.6" stroke-dasharray="8,4"/>
<path d="M65.3,528.9 L67.5,529.3 L69.6,529.7 L71.8,530.1 L74.0,530.5 L76.2,530.8 L78.4,531.2 L80.6,531.6 L82.8,531.9 L85.0,532.3 L87.2,532.6 L89.3,532.9 L91.5,533.3 L93.7,533.6 L95.9,533.9 L98.1,534.3 L100.3,534.6 L102.5,534.9 L104.7,535.2 L106.9,535.5 L109.0,535.8 L111.2,536.0 L113.4,536.2 L115.6,536.3 L117.8,536.4 L120.0,536.5 L122.2,536.6 L124.4,536.7 L126.6,536.8 L128.7,536.9 L130.9,537.0 L133.1,537.2 L135.3,537.4 L137.5,537.7 L139.7,537.9 L141.9,538.3 L144.1,538.6 L146.3,539.0 L148.4,539.4 L150.6,539.8 L152.8,540.2 L155.0,540.6 L157.2,541.0 L159.4,541.4 L161.6,541.8 L163.8,542.2 L166.0,542.6 L168.1,543.0 L170.3,543.3 L172.5,543.6 L174.7,543.9 L176.9,544.1 L179.1,544.3 L181.3,544.5 L183.5,544.6 L185.7,544.6 L187.8,544.6 L190.0,544.6 L192.2,544.6 L194.4,544.6 L196.6,544.6 L198.8,544.6 L201.0,544.6 L203.2,544.6 L205.4,544.6 L207.5,544.6 L209.7,544.6 L211.9,544.6 L214.1,544.3 L216.3,543.9 L218.5,543.2 L220.7,542.6 L222.9,541.8 L225.1,541.1 L227.2,540.5 L229.4,539.9 L231.6,539.3 L233.8,538.6 L236.0,537.9 L238.2,537.2 L240.4,536.5 L242.6,535.8 L244.8,535.0 L246.9,534.2 L249.1,533.4 L251.3,532.5 L253.5,531.6 L255.7,530.7 L257.9,529.8 L260.1,528.7 L262.3,527.5 L264.5,526.3 L266.6,525.1 L268.8,523.8 L271.0,522.5 L273.2,521.3 L275.4,520.1 L277.6,518.9 L279.8,517.9 L282.0,517.0 L284.2,516.1 L286.3,515.2 L288.5,514.4 L290.7,513.5 L292.9,512.7 L295.1,511.9 L297.3,511.2 L299.5,510.4 L301.7,509.7 L303.9,509.0 L306.0,508.4 L308.2,507.7 L310.4,507.1 L312.6,506.6 L314.8,506.1 L317.0,505.6 L319.2,505.1 L321.4,504.8 L323.6,504.4 L325.8,504.1" stroke="#00f" stroke-width="1.6" stroke-dasharray="8,4"/>
</g>
<g clip-path="url(#cd)" fill="none" stroke-linejoin="round">
<path d="M65.4,666.9 L68.8,673.2 L72.3,675.4 L74.9,673.2 L77.4,669.1 L80.0,666.9 L82.6,667.5 L85.1,668.6 L87.7,669.2 L91.2,663.8 L94.6,658.5 L98.1,660.0 L101.5,661.5 L104.1,660.7 L106.7,658.8 L109.2,656.9 L111.8,655.2 L114.4,653.3 L116.9,652.0 L119.5,651.3 L122.1,650.7 L124.6,650.0 L127.2,648.9 L129.7,647.6 L132.3,646.2 L135.0,644.4 L137.7,642.4 L140.4,640.7 L143.0,639.3 L145.6,638.1 L148.2,636.8 L150.8,635.5 L153.4,633.8 L156.0,631.9 L158.6,630.1 L161.2,628.6 L163.7,627.3 L166.3,626.2 L168.9,625.2 L171.5,624.2 L174.1,623.3 L176.7,622.3 L179.3,621.4 L181.9,620.8 L184.8,620.1 L187.7,619.6 L190.6,619.4 L193.5,619.5 L196.3,619.6 L199.2,619.9 L202.0,620.6 L204.8,621.1 L207.9,613.3 L211.0,605.2 L213.7,604.6 L216.3,604.2 L219.0,604.0 L221.7,603.8 L224.3,603.6 L227.0,603.5 L229.7,603.3 L232.3,603.1 L235.0,602.7 L237.6,602.2 L240.1,601.5 L242.7,600.6 L245.3,599.7 L247.8,598.6 L250.4,597.6 L253.0,596.5 L255.5,595.5 L258.1,594.6 L260.6,593.8 L263.2,592.9 L265.8,592.1 L268.3,591.2 L270.9,590.4 L273.5,589.6 L276.0,588.8 L278.6,588.0 L281.2,587.2 L283.7,586.5 L286.3,585.8 L288.9,585.1 L291.4,584.4 L294.0,583.7 L296.5,583.1 L299.1,582.4 L301.7,581.8 L304.2,581.2 L306.9,580.7 L309.5,580.2 L312.1,579.7 L314.7,579.2 L317.4,578.7 L320.0,578.2 L322.7,577.6 L325.4,577.0 L328.1,576.4 L330.8,575.9 L333.5,575.3 L336.2,574.7 L338.8,574.2 L341.5,573.7 L344.2,573.3 L346.9,573.0 L349.6,572.6 L352.3,572.3 L355.0,572.1 L357.7,571.8 L360.4,571.5 L363.1,571.3 L365.8,571.1 L368.5,570.9 L371.2,570.7 L373.8,570.6 L376.5,570.4 L379.2,570.3 L381.9,570.1 L384.6,570.0 L387.3,569.9 L390.0,569.8 L392.7,569.7 L395.4,569.6 L398.1,569.5 L400.8,569.5 L403.5,569.4 L406.2,569.3 L408.8,569.3 L411.5,569.2 L414.2,569.2 L416.9,569.2 L419.5,569.2 L422.0,569.3 L424.6,569.3 L427.1,569.4 L429.6,569.5 L432.2,569.6 L434.7,569.7 L437.3,569.9 L439.8,570.0 L442.4,570.2" stroke="#000" stroke-width="1.6"/>
<path d="M65.4,687.7 L68.8,684.3 L72.3,681.5 L74.9,679.8 L77.4,678.3 L80.0,676.9 L82.6,675.8 L85.1,674.9 L87.7,673.8 L90.3,672.6 L92.8,671.3 L95.4,670.0 L97.9,668.7 L100.5,667.4 L103.1,666.2 L105.6,664.8 L108.2,663.5 L110.8,662.3 L113.3,661.2 L115.9,660.2 L118.5,659.2 L121.0,658.4 L123.6,657.7 L126.2,656.9 L128.7,656.0 L131.3,655.0 L133.8,653.8 L137.1,652.1 L140.4,650.2 L143.0,648.6 L145.6,646.8 L148.2,645.0 L150.8,643.3 L153.4,641.5 L156.0,639.7 L158.6,637.9 L161.2,636.3 L163.7,634.9 L166.3,633.5 L168.9,632.3 L171.5,631.2 L174.1,630.1 L176.7,629.1 L179.3,628.2 L181.9,627.7 L184.5,627.4 L187.1,627.1 L189.7,626.9 L192.3,626.8 L194.9,626.9 L197.5,626.9 L200.1,627.1 L202.7,627.3 L205.3,628.6 L208.0,620.2 L210.7,611.2 L213.4,610.4 L216.1,609.7 L218.8,609.3 L221.5,608.9 L224.2,608.7 L226.9,608.4 L229.6,608.2 L232.3,607.8 L235.0,607.3 L237.6,606.7 L240.1,605.9 L242.7,605.1 L245.3,604.2 L247.8,603.2 L250.4,602.2 L253.0,601.2 L255.5,600.2 L258.1,599.2 L260.6,598.3 L263.2,597.3 L265.8,596.3 L268.3,595.2 L270.9,594.2 L273.5,593.2 L276.0,592.2 L278.6,591.3 L281.2,590.5 L283.7,589.7 L286.3,588.9 L288.9,588.2 L291.4,587.5 L294.0,586.8 L296.5,586.2 L299.1,585.5 L301.7,584.9 L304.2,584.2 L306.9,583.6 L309.5,583.0 L312.1,582.4 L314.7,581.8 L317.4,581.2 L320.0,580.6 L322.7,580.0 L325.4,579.4 L328.1,578.8 L330.8,578.3 L333.5,577.7 L336.2,577.2 L338.8,576.7 L341.5,576.2 L344.2,575.7 L346.9,575.3 L349.6,574.9 L352.3,574.5 L355.0,574.2 L357.7,573.8 L360.4,573.5 L363.1,573.1 L365.8,572.9 L368.5,572.6 L371.2,572.4 L373.8,572.1 L376.5,571.9 L379.2,571.7 L381.9,571.5 L384.6,571.3 L387.3,571.2 L390.0,571.0 L392.7,570.9 L395.4,570.8 L398.1,570.7 L400.8,570.6 L403.5,570.5 L406.2,570.4 L408.8,570.3 L411.5,570.2 L414.2,570.2 L416.9,570.2 L419.5,570.2 L422.0,570.2 L424.6,570.2 L427.1,570.3 L429.6,570.4 L432.2,570.4 L434.7,570.5 L437.3,570.6 L439.8,570.8 L442.4,570.9" stroke="#f00" stroke-width="1.6"/>
<path d="M65.4,691.5 L68.8,687.5 L72.3,684.6 L74.9,683.4 L77.4,682.4 L80.0,681.2 L83.5,677.6 L86.9,675.1 L89.5,675.4 L92.1,676.0 L94.6,676.3 L97.4,675.3 L100.3,673.1 L103.1,671.5 L105.6,671.0 L108.2,670.5 L110.8,670.0 L113.3,669.1 L115.9,668.0 L118.5,666.9 L121.0,666.1 L123.6,665.4 L126.2,664.6 L128.7,663.7 L131.3,662.7 L133.8,661.5 L137.1,659.5 L140.4,657.1 L143.0,655.3 L145.6,653.5 L148.2,651.8 L150.8,650.2 L153.4,648.8 L156.0,647.5 L158.6,646.3 L161.2,645.0 L163.7,643.6 L166.3,642.2 L168.9,640.9 L171.5,639.8 L174.1,639.0 L176.7,638.2 L179.3,637.6 L181.9,637.2 L184.5,636.9 L187.1,636.7 L189.7,636.5 L192.3,636.3 L194.9,636.2 L197.5,636.1 L200.1,636.0 L202.7,636.0 L205.3,637.2 L207.9,627.1 L210.5,616.4 L213.2,615.6 L215.9,614.9 L218.7,614.5 L221.4,614.2 L224.1,614.0 L226.8,613.7 L229.6,613.5 L232.3,613.1 L235.0,612.6 L237.6,612.0 L240.1,611.2 L242.7,610.3 L245.3,609.2 L247.8,608.2 L250.4,607.1 L253.0,606.0 L255.5,604.9 L258.1,603.8 L260.6,602.8 L263.2,601.8 L265.8,600.7 L268.3,599.7 L270.9,598.6 L273.5,597.6 L276.0,596.5 L278.6,595.6 L281.2,594.6 L283.7,593.7 L286.3,592.8 L288.9,592.0 L291.4,591.1 L294.0,590.3 L296.5,589.5 L299.1,588.7 L301.7,588.0 L304.2,587.2 L306.9,586.5 L309.5,585.7 L312.1,585.0 L314.7,584.3 L317.4,583.6 L320.0,583.0 L322.7,582.4 L325.4,581.8 L328.1,581.2 L330.8,580.6 L333.5,580.1 L336.2,579.6 L338.8,579.1 L341.5,578.6 L344.2,578.2 L346.9,577.8 L349.6,577.3 L352.3,577.0 L355.0,576.6 L357.7,576.2 L360.4,575.9 L363.1,575.6 L365.8,575.3 L368.5,575.0 L371.2,574.8 L373.8,574.6 L376.5,574.4 L379.2,574.2 L381.9,574.0 L384.6,573.8 L387.3,573.6 L390.0,573.5 L392.7,573.3 L395.4,573.2 L398.1,573.0 L400.8,572.8 L403.5,572.6 L406.2,572.5 L408.8,572.3 L411.5,572.2 L414.2,572.1 L416.9,572.1 L419.5,572.1 L422.0,572.1 L424.6,572.1 L427.1,572.2 L429.6,572.2 L432.2,572.2 L434.7,572.3 L437.3,572.4 L439.8,572.5 L442.4,572.6" stroke="#0f0" stroke-width="1.6"/>
<path d="M65.4,691.5 L68.8,687.7 L72.3,686.2 L74.9,686.8 L77.4,687.9 L80.0,688.5 L82.6,687.1 L85.1,684.4 L87.7,682.3 L90.3,681.1 L92.8,680.1 L95.4,679.7 L97.9,679.8 L100.5,679.9 L103.1,680.0 L105.6,679.6 L108.2,678.7 L110.8,677.7 L113.3,676.4 L115.9,674.8 L118.5,673.8 L121.0,673.6 L123.6,673.4 L126.2,673.1 L128.7,672.1 L131.3,670.3 L133.8,668.5 L137.1,665.8 L140.4,663.2 L143.0,661.5 L145.6,660.0 L148.2,658.6 L150.8,657.1 L153.4,655.6 L156.0,654.0 L158.6,652.4 L161.2,651.1 L163.7,649.8 L166.3,648.7 L168.9,647.6 L171.5,646.7 L174.1,646.0 L176.7,645.3 L179.3,644.7 L181.9,644.1 L184.5,643.6 L187.1,643.0 L189.7,642.6 L192.3,642.4 L194.9,642.4 L197.5,642.4 L200.1,642.4 L202.7,642.4 L205.3,643.3 L207.9,633.2 L210.5,622.5 L213.2,621.4 L215.9,620.6 L218.7,620.0 L221.4,619.6 L224.1,619.3 L226.8,619.1 L229.6,618.7 L232.3,618.3 L235.0,617.7 L237.6,617.0 L240.1,616.1 L242.7,615.1 L245.3,614.1 L247.8,613.0 L250.4,611.9 L253.0,610.7 L255.5,609.6 L258.1,608.5 L260.6,607.3 L263.2,606.2 L265.8,604.9 L268.3,603.7 L270.9,602.5 L273.5,601.3 L276.0,600.1 L278.6,599.1 L281.2,598.1 L283.7,597.2 L286.3,596.4 L288.9,595.6 L291.4,594.8 L294.0,594.1 L296.5,593.4 L299.1,592.7 L301.7,591.9 L304.2,591.2 L306.9,590.3 L309.5,589.4 L312.1,588.5 L314.7,587.7 L317.4,586.9 L320.0,586.2 L322.7,585.5 L325.4,584.9 L328.1,584.3 L330.8,583.7 L333.5,583.2 L336.2,582.7 L338.8,582.2 L341.5,581.8 L344.2,581.3 L346.9,580.9 L349.6,580.5 L352.3,580.1 L355.0,579.8 L357.7,579.4 L360.4,579.1 L363.1,578.8 L365.8,578.5 L368.5,578.2 L371.2,577.9 L373.8,577.6 L376.5,577.3 L379.2,577.0 L381.9,576.7 L384.6,576.4 L387.3,576.2 L390.0,575.9 L392.7,575.7 L395.4,575.6 L398.1,575.4 L400.8,575.2 L403.5,575.0 L406.2,574.9 L408.8,574.7 L411.5,574.6 L414.2,574.6 L416.9,574.5 L419.5,574.5 L422.0,574.5 L424.6,574.5 L427.1,574.5 L429.6,574.5 L432.2,574.5 L434.7,574.5 L437.3,574.5 L439.8,574.5 L442.4,574.5" stroke="#00f" stroke-width="1.6"/>
<path d="M65.4,692.3 L68.8,693.0 L72.3,693.1 L74.9,692.7 L77.4,691.8 L80.0,690.8 L82.6,689.7 L85.1,688.5 L87.7,687.7 L90.3,687.4 L92.8,687.2 L95.4,686.9 L97.9,685.9 L100.5,684.3 L103.1,683.1 L105.6,682.5 L108.2,682.0 L110.8,681.5 L113.3,681.1 L115.9,680.6 L118.5,680.0 L121.0,679.1 L123.6,678.0 L126.2,676.9 L128.7,676.0 L131.3,675.0 L133.8,673.8 L137.1,671.6 L140.4,669.2 L143.0,667.6 L145.6,666.1 L148.2,664.6 L150.8,663.2 L153.4,661.8 L156.0,660.5 L158.6,659.2 L161.2,658.0 L163.7,656.8 L166.3,655.6 L168.9,654.6 L171.5,653.7 L174.1,652.9 L176.7,652.2 L179.3,651.6 L181.9,651.1 L184.5,650.4 L187.1,649.7 L189.7,649.1 L192.3,648.8 L194.9,648.7 L197.5,648.6 L200.1,648.5 L202.7,648.5 L205.3,650.2 L210.0,628.6 L212.5,627.3 L215.0,626.4 L217.5,625.7 L220.0,625.2 L222.5,624.9 L225.0,624.6 L227.5,624.2 L230.0,623.9 L232.5,623.4 L235.0,622.8 L237.6,621.9 L240.1,621.0 L242.7,620.0 L245.3,618.9 L247.8,617.7 L250.4,616.6 L253.0,615.4 L255.5,614.2 L258.1,613.1 L260.6,611.9 L263.2,610.8 L265.8,609.6 L268.3,608.4 L270.9,607.2 L273.5,606.0 L276.0,604.8 L278.6,603.7 L281.2,602.7 L283.7,601.7 L286.3,600.8 L288.9,599.9 L291.4,599.0 L294.0,598.1 L296.5,597.2 L299.1,596.4 L301.7,595.5 L304.2,594.6 L306.9,593.7 L309.5,592.7 L312.1,591.7 L314.7,590.7 L317.4,589.8 L320.0,589.1 L322.7,588.4 L325.4,587.8 L328.1,587.2 L330.8,586.6 L333.5,586.1 L336.2,585.6 L338.8,585.1 L341.5,584.6 L344.2,584.2 L346.9,583.8 L349.6,583.5 L352.3,583.1 L355.0,582.8 L357.7,582.5 L360.4,582.2 L363.1,581.9 L365.8,581.6 L368.5,581.3 L371.2,581.0 L373.8,580.7 L376.5,580.4 L379.2,580.1 L381.9,579.9 L384.6,579.6 L387.3,579.3 L390.0,579.1 L392.7,578.9 L395.4,578.7 L398.1,578.5 L400.8,578.3 L403.5,578.0 L406.2,577.9 L408.8,577.7 L411.5,577.6 L414.2,577.5 L416.9,577.4 L419.5,577.4 L422.0,577.4 L424.6,577.4 L427.1,577.4 L429.6,577.4 L432.2,577.4 L434.7,577.4 L437.3,577.4 L439.8,577.4 L442.4,577.4" stroke="#ffa500" stroke-width="1.6"/>
<path d="M65.4,699.2 L68.8,698.0 L72.3,696.9 L74.9,696.1 L77.4,695.4 L80.0,694.6 L82.6,693.8 L85.1,692.9 L87.7,692.3 L90.3,692.0 L92.8,691.8 L95.4,691.5 L97.9,691.0 L100.5,690.1 L103.1,689.2 L105.6,688.1 L108.2,686.9 L110.8,686.2 L113.3,685.9 L115.9,685.7 L118.5,685.4 L121.0,684.8 L123.6,684.0 L126.2,683.1 L128.7,682.2 L131.3,681.2 L133.8,680.0 L137.1,677.3 L140.4,674.4 L143.0,672.7 L145.6,671.1 L148.2,669.7 L150.8,668.4 L153.4,667.2 L156.0,666.1 L158.6,665.1 L161.2,664.0 L163.7,662.9 L166.3,661.7 L168.9,660.6 L171.5,659.7 L174.1,658.9 L176.7,658.3 L179.3,657.7 L181.9,657.1 L184.5,656.6 L187.1,656.1 L189.7,655.7 L192.3,655.4 L194.9,655.1 L197.5,654.8 L200.1,654.6 L202.7,654.5 L205.3,657.1 L210.0,632.9 L212.5,632.0 L215.0,631.3 L217.5,630.9 L220.0,630.6 L222.5,630.3 L225.0,630.1 L227.5,629.9 L230.0,629.6 L232.5,629.3 L235.0,628.8 L237.6,628.1 L240.1,627.2 L242.7,626.2 L245.3,625.1 L247.8,623.8 L250.4,622.6 L253.0,621.3 L255.5,620.1 L258.1,618.9 L260.6,617.6 L263.2,616.3 L265.8,615.0 L268.3,613.7 L270.9,612.3 L273.5,611.0 L276.0,609.7 L278.6,608.5 L281.2,607.3 L283.7,606.3 L286.3,605.2 L288.9,604.3 L291.4,603.4 L294.0,602.5 L296.5,601.5 L299.1,600.6 L301.7,599.7 L304.2,598.8 L306.9,597.7 L309.5,596.6 L312.1,595.5 L314.7,594.5 L317.4,593.5 L320.0,592.7 L322.7,592.0 L325.4,591.4 L328.1,590.8 L330.8,590.3 L333.5,589.7 L336.2,589.3 L338.8,588.8 L341.5,588.3 L344.2,587.9 L346.9,587.4 L349.6,586.9 L352.3,586.5 L355.0,586.1 L357.7,585.6 L360.4,585.2 L363.1,584.9 L365.8,584.5 L368.5,584.2 L371.2,584.0 L373.8,583.7 L376.5,583.4 L379.2,583.2 L381.9,583.0 L384.6,582.8 L387.3,582.6 L390.0,582.4 L392.7,582.3 L395.4,582.1 L398.1,582.0 L400.8,581.8 L403.5,581.7 L406.2,581.6 L408.8,581.5 L411.5,581.4 L414.2,581.3 L416.9,581.3 L419.5,581.3 L422.0,581.3 L424.6,581.3 L427.1,581.3 L429.6,581.3 L432.2,581.3 L434.7,581.3 L437.3,581.3 L439.8,581.3 L442.4,581.3" stroke="#0ff" stroke-width="1.6"/>
<path d="M65.4,700.8 L68.8,699.5 L72.3,698.5 L74.9,697.9 L77.4,697.4 L80.0,696.9 L82.6,696.4 L85.1,695.9 L87.7,695.4 L90.3,694.9 L92.8,694.4 L95.4,693.8 L97.9,693.4 L100.5,692.9 L103.1,692.3 L105.6,691.6 L108.2,690.8 L110.8,690.0 L113.3,689.2 L115.9,688.4 L118.5,687.7 L121.0,687.2 L123.6,686.7 L126.2,686.2 L128.7,685.5 L131.3,684.8 L133.8,683.8 L137.1,681.5 L140.4,678.7 L143.0,677.1 L145.6,675.5 L148.2,674.0 L150.8,672.7 L153.4,671.5 L156.0,670.4 L158.6,669.3 L161.2,668.4 L163.7,667.4 L166.3,666.5 L168.9,665.7 L171.5,664.9 L174.1,664.2 L176.7,663.6 L179.3,662.9 L181.9,662.3 L184.5,661.6 L187.1,660.8 L189.7,660.2 L192.3,659.7 L194.9,659.4 L197.5,659.1 L200.1,658.9 L202.7,658.8 L205.3,660.6 L210.0,636.3 L212.5,635.3 L215.0,634.5 L217.5,634.0 L220.0,633.6 L222.5,633.3 L225.0,633.0 L227.5,632.8 L230.0,632.5 L232.5,632.1 L235.0,631.5 L237.6,630.8 L240.1,630.0 L242.7,629.0 L245.3,628.0 L247.8,626.9 L250.4,625.8 L253.0,624.6 L255.5,623.4 L258.1,622.3 L260.6,621.2 L263.2,619.9 L265.8,618.7 L268.3,617.4 L270.9,616.1 L273.5,614.8 L276.0,613.5 L278.6,612.4 L281.2,611.2 L283.7,610.2 L286.3,609.2 L288.9,608.3 L291.4,607.3 L294.0,606.4 L296.5,605.5 L299.1,604.6 L301.7,603.7 L304.2,602.7 L306.9,601.6 L309.5,600.5 L312.1,599.3 L314.7,598.2 L317.4,597.2 L320.0,596.3 L322.7,595.6 L325.4,594.9 L328.1,594.2 L330.8,593.6 L333.5,593.0 L336.2,592.5 L338.8,591.9 L341.5,591.5 L344.2,591.0 L346.9,590.6 L349.6,590.2 L352.3,589.9 L355.0,589.5 L357.7,589.2 L360.4,588.9 L363.1,588.6 L365.8,588.2 L368.5,587.9 L371.2,587.5 L373.8,587.1 L376.5,586.6 L379.2,586.2 L381.9,585.8 L384.6,585.3 L387.3,584.9 L390.0,584.6 L392.7,584.2 L395.7,583.8 L398.7,583.4 L401.8,583.1 L404.8,583.0 L407.8,583.2 L410.9,583.6 L413.9,584.0 L416.9,584.2 L419.8,584.0 L422.7,583.5 L425.6,583.0 L428.6,582.5 L431.5,582.3 L434.2,582.4 L436.9,582.8 L439.6,583.5 L442.4,584.2" stroke="#bc8f8f" stroke-width="1.6"/>
<path d="M65.4,706.2 L68.8,702.9 L72.3,701.5 L74.9,701.9 L77.4,702.7 L80.0,703.1 L82.6,702.8 L85.1,702.2 L87.7,701.5 L90.3,700.6 L92.8,699.5 L95.4,698.5 L97.9,697.6 L100.5,696.8 L103.1,696.2 L105.6,695.6 L108.2,695.0 L110.8,694.6 L113.3,694.3 L115.9,694.1 L118.5,693.8 L121.0,693.4 L123.6,692.9 L126.2,692.3 L128.7,691.5 L131.3,690.5 L133.8,689.2 L137.1,687.0 L140.4,684.8 L143.0,683.6 L145.6,682.6 L148.2,681.6 L150.8,680.5 L153.4,679.0 L156.0,677.4 L158.6,675.7 L161.2,674.4 L163.7,673.4 L166.3,672.5 L168.9,671.7 L171.5,671.0 L174.1,670.3 L176.7,669.6 L179.3,669.0 L181.9,668.4 L184.5,667.7 L187.1,666.9 L189.7,666.2 L192.3,665.8 L194.9,665.4 L197.5,665.2 L200.1,665.0 L202.7,664.9 L205.3,665.8 L210.0,645.0 L212.5,643.2 L215.0,641.8 L217.5,640.7 L220.0,639.8 L222.5,639.1 L225.0,638.6 L227.5,638.1 L230.0,637.6 L232.5,636.9 L235.0,636.2 L237.6,635.3 L240.1,634.4 L242.7,633.5 L245.3,632.7 L247.8,631.8 L250.4,630.9 L253.0,630.0 L255.5,629.1 L258.1,628.1 L260.6,627.0 L263.2,625.9 L265.8,624.7 L268.3,623.5 L270.9,622.3 L273.5,621.1 L276.0,619.9 L278.6,618.8 L281.2,617.7 L283.7,616.7 L286.3,615.8 L288.9,614.9 L291.4,614.0 L294.0,613.1 L296.5,612.3 L299.1,611.4 L301.7,610.5 L304.2,609.6 L306.9,608.6 L309.5,607.5 L312.1,606.4 L314.7,605.4 L317.4,604.4 L320.0,603.6 L322.7,602.9 L325.4,602.3 L328.1,601.8 L330.8,601.2 L333.5,600.7 L336.2,600.3 L338.8,599.8 L341.5,599.3 L344.2,598.8 L346.9,598.2 L349.6,597.6 L352.3,597.1 L355.0,596.5 L357.7,595.9 L360.4,595.4 L363.1,594.8 L365.8,594.4 L368.5,593.9 L371.2,593.5 L373.8,593.2 L376.5,592.9 L379.2,592.6 L381.9,592.3 L384.6,592.0 L387.3,591.7 L390.0,591.4 L392.7,591.0 L395.7,590.5 L398.7,590.0 L401.8,589.5 L404.8,589.1 L407.8,588.7 L410.9,588.3 L413.9,588.0 L416.9,587.9 L419.8,587.9 L422.7,588.1 L425.6,588.3 L428.6,588.5 L431.5,588.6 L435.1,588.2 L438.7,587.9 L442.4,591.5" stroke="#9400d3" stroke-width="1.6"/>
<path d="M65.4,711.5 L68.8,708.9 L72.3,707.7 L74.9,707.9 L77.4,708.3 L80.0,708.5 L82.6,708.2 L85.1,707.6 L87.7,706.9 L90.3,705.8 L92.8,704.5 L95.4,703.8 L97.9,704.0 L100.5,704.2 L103.1,704.3 L105.6,703.6 L108.2,702.3 L110.8,701.5 L113.3,701.5 L115.9,701.5 L118.5,701.5 L121.0,701.1 L123.6,700.2 L126.2,699.2 L128.7,698.3 L131.3,697.3 L133.8,696.2 L137.1,694.4 L140.4,692.6 L143.0,691.4 L145.6,690.3 L148.2,689.3 L150.8,688.3 L153.4,687.3 L156.0,686.5 L158.6,685.7 L161.2,684.8 L163.7,683.9 L166.3,683.0 L168.9,682.1 L171.5,681.3 L174.1,680.6 L176.7,680.0 L179.3,679.4 L181.9,678.7 L184.5,678.1 L187.1,677.4 L189.7,676.7 L192.3,676.2 L194.9,675.7 L197.5,675.3 L200.1,674.9 L202.7,674.4 L205.3,673.6 L207.9,664.5 L210.5,655.4 L213.2,653.9 L215.9,652.9 L218.7,652.1 L221.4,651.5 L224.1,651.1 L226.8,650.7 L229.6,650.2 L232.3,649.6 L235.0,648.9 L237.6,647.9 L240.1,646.9 L242.7,645.7 L245.3,644.5 L247.8,643.3 L250.4,642.0 L253.0,640.8 L255.5,639.6 L258.1,638.5 L260.6,637.4 L263.2,636.3 L265.8,635.3 L268.3,634.3 L270.9,633.3 L273.5,632.3 L276.0,631.3 L278.6,630.3 L281.2,629.2 L283.7,628.2 L286.3,627.1 L288.9,626.1 L291.4,625.0 L294.0,623.9 L296.5,622.9 L299.1,621.9 L301.7,620.9 L304.2,620.0 L306.9,619.1 L309.5,618.3 L312.1,617.5 L314.7,616.7 L317.4,616.0 L320.0,615.2 L323.0,614.4 L326.1,613.7 L329.1,612.9 L332.1,612.1 L335.1,611.2 L338.2,610.2 L341.2,609.2 L344.2,608.5 L347.3,607.9 L350.3,607.4 L353.3,607.0 L356.3,606.5 L359.4,606.1 L362.4,605.6 L365.4,605.2 L368.5,604.8 L371.5,604.5 L374.5,604.1 L377.5,603.8 L380.6,603.6 L383.6,603.5 L386.6,603.4 L389.7,603.3 L392.7,603.1 L395.7,602.7 L398.7,601.8 L401.8,600.9 L404.8,600.0 L408.4,598.9 L412.1,598.3 L415.1,598.8 L418.1,599.3 L421.2,595.6 L424.2,592.0 L427.8,593.1 L431.5,595.1 L435.1,597.3 L438.7,600.0 L442.4,603.1" stroke="#000" stroke-width="2.6"/>
<path d="M65.4,712.3 L68.8,710.2 L72.3,709.2 L74.9,709.2 L77.4,709.2 L80.0,709.2 L82.6,708.8 L85.1,708.1 L87.7,707.7 L90.3,707.9 L92.8,708.3 L95.4,708.5 L97.9,707.9 L100.5,706.8 L103.1,706.2 L105.6,706.4 L108.2,706.7 L110.8,706.9 L113.3,706.7 L115.9,706.1 L118.5,705.4 L121.0,704.6 L123.6,703.8 L126.2,703.1 L128.7,702.6 L131.3,702.1 L133.8,701.5 L137.1,699.8 L140.4,697.8 L143.0,696.8 L145.6,695.9 L148.2,695.1 L150.8,694.3 L153.4,693.5 L156.0,692.6 L158.6,691.7 L161.2,690.9 L163.7,690.0 L166.3,689.1 L168.9,688.2 L171.5,687.4 L174.1,686.7 L176.7,686.0 L179.3,685.4 L181.9,684.8 L184.5,684.3 L187.1,683.9 L189.7,683.5 L192.3,683.1 L194.9,682.6 L197.5,682.0 L200.1,681.5 L202.7,681.3 L205.3,681.3 L207.9,673.5 L210.5,664.9 L213.2,663.6 L215.9,662.7 L218.7,662.0 L221.4,661.5 L224.1,661.2 L226.8,660.8 L229.6,660.4 L232.3,659.9 L235.0,659.2 L237.6,658.4 L240.1,657.5 L242.7,656.6 L245.3,655.5 L247.8,654.5 L250.4,653.3 L253.0,652.2 L255.5,651.1 L258.1,650.0 L260.6,648.9 L263.2,647.7 L265.8,646.5 L268.3,645.3 L270.9,644.1 L273.5,642.9 L276.0,641.8 L278.6,640.7 L281.2,639.6 L283.7,638.6 L286.3,637.7 L288.9,636.8 L291.4,635.9 L294.0,635.1 L296.5,634.2 L299.1,633.4 L301.7,632.5 L304.2,631.5 L306.9,630.5 L309.5,629.4 L312.1,628.3 L314.7,627.3 L317.4,626.3 L320.0,625.4 L323.0,624.6 L326.1,623.9 L329.1,623.2 L332.1,622.5 L335.1,621.7 L338.2,620.9 L341.2,620.1 L344.2,619.4 L347.9,618.8 L351.5,618.2 L355.1,616.5 L358.8,615.2 L362.4,616.5 L366.0,617.7 L369.3,617.3 L372.5,616.3 L375.7,615.2 L378.8,614.1 L381.8,612.6 L384.8,611.4 L387.8,610.9 L391.5,612.2 L395.1,613.8 L398.7,614.3 L402.4,614.5 L406.0,612.5 L409.7,610.4 L413.3,613.1 L416.9,616.9 L420.6,619.0 L424.2,620.1 L427.8,618.2 L431.5,616.2 L435.1,625.1 L438.7,633.9 L442.4,627.8" stroke="#f00" stroke-width="1.6"/>
<path d="M65.4,716.9 L68.8,713.8 L72.3,712.3 L74.9,712.3 L77.4,712.3 L80.0,712.3 L82.6,712.2 L85.1,711.9 L87.7,711.5 L90.3,711.2 L92.8,710.9 L95.4,710.8 L97.9,710.8 L100.5,710.8 L103.1,710.8 L105.6,710.6 L108.2,710.3 L110.8,710.0 L113.3,709.8 L115.9,709.5 L118.5,709.2 L121.0,708.8 L123.6,708.3 L126.2,707.7 L128.7,707.0 L131.3,706.3 L133.8,705.4 L137.1,703.8 L140.4,702.1 L143.0,701.1 L145.6,700.3 L148.2,699.5 L150.8,698.7 L153.4,697.8 L156.0,696.9 L158.6,696.1 L161.2,695.2 L163.7,694.3 L166.3,693.4 L168.9,692.5 L171.5,691.7 L174.1,691.0 L176.7,690.3 L179.3,689.7 L181.9,689.1 L184.5,688.6 L187.1,688.2 L189.7,687.7 L192.3,687.4 L194.9,687.1 L197.5,686.8 L200.1,686.6 L202.7,686.5 L205.3,686.5 L207.9,680.3 L210.5,673.6 L213.2,672.4 L215.9,671.6 L218.7,671.0 L221.4,670.5 L224.1,670.2 L226.8,669.8 L229.6,669.5 L232.3,669.0 L235.0,668.5 L237.6,667.8 L240.1,667.2 L242.7,666.5 L245.3,665.7 L247.8,665.0 L250.4,664.2 L253.0,663.3 L255.5,662.5 L258.1,661.5 L260.6,660.6 L263.2,659.5 L265.8,658.3 L268.3,657.1 L270.9,655.9 L273.5,654.7 L276.0,653.5 L278.6,652.3 L281.2,651.2 L283.7,650.1 L286.3,649.0 L288.9,647.9 L291.4,646.8 L294.0,645.8 L296.5,644.8 L299.1,643.8 L301.7,642.8 L304.2,641.9 L306.9,641.0 L309.5,640.2 L312.1,639.4 L314.7,638.6 L317.4,637.8 L320.0,637.1 L323.0,636.2 L326.1,635.4 L329.1,634.6 L332.1,633.9 L335.1,633.2 L338.2,632.6 L341.2,632.0 L344.2,631.5 L347.3,631.0 L350.3,630.5 L353.3,630.1 L356.3,629.8 L359.6,629.6 L362.8,629.4 L366.0,629.1 L369.7,627.1 L373.3,625.4 L376.9,627.2 L380.6,629.1 L384.2,628.2 L387.8,627.4 L391.5,628.0 L395.1,628.6 L398.3,627.7 L401.6,626.1 L404.8,624.9 L408.4,624.4 L412.1,624.2 L415.7,624.6 L419.3,625.4 L423.0,627.1 L426.6,628.3 L431.5,626.6 L434.5,639.6 L437.5,653.3 L442.4,654.5" stroke="#0f0" stroke-width="1.6"/>
<path d="M65.4,715.4 L68.8,718.7 L72.3,720.0 L74.9,719.1 L77.4,717.4 L80.0,716.2 L82.6,715.7 L85.1,715.3 L87.7,715.1 L90.3,714.9 L92.8,714.8 L95.4,714.6 L97.9,714.4 L100.5,714.1 L103.1,713.8 L105.6,713.7 L108.2,713.7 L110.8,713.5 L113.3,713.2 L115.9,712.8 L118.5,712.3 L121.0,711.8 L123.6,711.3 L126.2,710.8 L128.7,710.3 L131.3,709.9 L133.8,709.2 L137.1,707.5 L140.4,705.6 L143.0,704.5 L145.6,703.7 L148.2,702.9 L150.8,702.1 L153.4,701.4 L156.0,700.8 L158.6,700.1 L161.2,699.5 L163.7,698.9 L166.3,698.2 L168.9,697.6 L171.5,696.9 L174.1,696.2 L176.7,695.6 L179.3,694.9 L181.9,694.3 L184.5,693.8 L187.1,693.2 L189.7,692.8 L192.3,692.6 L194.9,692.6 L197.5,692.6 L200.1,692.6 L202.7,692.6 L205.3,692.6 L207.9,687.7 L210.5,682.2 L213.2,681.2 L215.9,680.5 L218.7,680.0 L221.4,679.6 L224.1,679.2 L226.8,679.0 L229.6,678.6 L232.3,678.2 L235.0,677.7 L237.6,677.1 L240.1,676.4 L242.7,675.7 L245.3,675.0 L247.8,674.2 L250.4,673.4 L253.0,672.5 L255.5,671.7 L258.1,670.8 L260.6,669.9 L263.2,668.9 L265.8,667.9 L268.3,666.8 L270.9,665.7 L273.5,664.6 L276.0,663.6 L278.6,662.5 L281.2,661.5 L283.7,660.6 L286.3,659.6 L288.9,658.7 L291.4,657.7 L294.0,656.8 L296.5,655.9 L299.1,655.0 L301.7,654.2 L304.2,653.5 L306.9,652.8 L309.5,652.1 L312.1,651.5 L314.7,650.9 L317.4,650.3 L320.0,649.7 L323.0,648.8 L326.1,647.8 L329.1,646.8 L332.1,646.0 L335.1,645.3 L338.2,644.6 L341.2,644.1 L344.2,643.6 L347.3,643.3 L350.3,643.0 L353.3,642.7 L356.3,642.4 L359.4,641.9 L362.4,641.2 L365.4,640.6 L368.5,640.0 L371.5,639.4 L374.5,638.7 L377.5,638.2 L380.6,638.0 L384.2,638.6 L387.8,639.5 L391.5,640.5 L395.1,641.2 L398.3,639.6 L401.6,636.7 L404.8,635.1 L408.4,635.4 L412.1,636.3 L416.9,644.8 L420.6,638.1 L424.2,631.5 L427.8,632.1 L431.5,632.7 L435.1,632.7 L438.7,632.7 L442.4,649.7" stroke="#ffa500" stroke-width="1.6"/>
<path d="M65.4,726.2 L68.8,719.3 L72.3,716.2 L74.9,716.2 L77.4,716.2 L80.0,716.2 L82.6,716.0 L85.1,715.6 L87.7,715.4 L90.3,715.3 L92.8,715.2 L95.4,715.1 L97.9,714.9 L100.5,714.8 L103.1,714.6 L105.6,714.4 L108.2,714.1 L110.8,713.8 L113.3,713.6 L115.9,713.4 L118.5,713.1 L121.0,712.6 L123.6,712.0 L126.2,711.5 L128.7,711.3 L131.3,711.1 L133.8,710.8 L137.1,709.2 L140.4,707.3 L143.0,706.3 L145.6,705.4 L148.2,704.6 L150.8,703.8 L153.4,703.1 L156.0,702.5 L158.6,701.9 L161.2,701.2 L163.7,700.6 L166.3,699.9 L168.9,699.2 L171.5,698.7 L174.1,698.1 L176.7,697.7 L179.3,697.3 L181.9,696.9 L184.5,696.6 L187.1,696.3 L189.7,696.1 L192.3,696.1 L194.9,696.1 L197.5,696.1 L200.1,696.1 L202.7,696.1 L205.3,695.2 L207.9,690.7 L210.5,686.5 L213.2,685.9 L215.9,685.4 L218.7,685.0 L221.4,684.7 L224.1,684.5 L226.8,684.4 L229.6,684.1 L232.3,683.9 L235.0,683.5 L237.6,683.0 L240.1,682.5 L242.7,681.9 L245.3,681.3 L247.8,680.7 L250.4,680.0 L253.0,679.2 L255.5,678.5 L258.1,677.7 L260.6,676.8 L263.2,675.9 L265.8,674.8 L268.3,673.7 L270.9,672.6 L273.5,671.5 L276.0,670.4 L278.6,669.4 L281.2,668.5 L283.7,667.6 L286.3,666.8 L288.9,665.9 L291.4,665.1 L294.0,664.4 L296.5,663.6 L299.1,662.9 L301.7,662.2 L304.2,661.5 L306.9,660.9 L309.5,660.4 L312.1,659.8 L314.7,659.3 L317.4,658.8 L320.0,658.1 L323.0,657.3 L326.1,656.4 L329.1,655.5 L332.1,654.5 L335.1,653.3 L338.2,651.8 L341.2,650.6 L344.2,650.1 L347.9,651.1 L351.5,652.1 L354.7,651.5 L358.0,650.3 L361.2,649.2 L364.2,648.2 L367.2,647.2 L370.3,646.4 L373.3,646.0 L376.5,646.2 L379.8,646.6 L383.0,646.7 L386.2,646.6 L389.5,646.2 L392.7,646.0 L395.7,646.8 L398.7,648.4 L401.8,650.1 L404.8,650.9 L408.4,650.9 L412.1,650.9 L415.1,653.7 L418.1,656.4 L421.8,651.2 L425.4,646.0 L429.0,654.5 L432.7,663.0 L435.7,660.0 L438.7,656.9 L442.4,658.1" stroke="#00f" stroke-width="1.6"/>
</g>
<defs>
<radialGradient id="gO" cx="0.5" cy="0.5" r="0.5" fx="0.36" fy="0.34">
<stop offset="0" stop-color="#ff7070"/><stop offset="0.3" stop-color="#ff1414"/>
<stop offset="0.78" stop-color="#e60000"/><stop offset="1" stop-color="#b80000"/></radialGradient>
<radialGradient id="gH" cx="0.5" cy="0.5" r="0.5" fx="0.36" fy="0.34">
<stop offset="0" stop-color="#d2d2d2"/><stop offset="0.35" stop-color="#a4a4a4"/>
<stop offset="0.8" stop-color="#8c8c8c"/><stop offset="1" stop-color="#707070"/></radialGradient>
</defs>
<line x1="178.6" y1="81.2" x2="123.5" y2="145.5" stroke="#a4a8ee" stroke-width="1.0"/>
<line x1="178.6" y1="81.2" x2="179.5" y2="158" stroke="#a4a8ee" stroke-width="1.0"/>
<line x1="178.6" y1="81.2" x2="200.8" y2="143.8" stroke="#a4a8ee" stroke-width="1.0"/>
<line x1="123.5" y1="145.5" x2="200.8" y2="143.8" stroke="#a4a8ee" stroke-width="1.0"/>
<line x1="123.5" y1="145.5" x2="180" y2="163" stroke="#a4a8ee" stroke-width="1.0"/>
<line x1="200.8" y1="143.8" x2="180" y2="163" stroke="#a4a8ee" stroke-width="1.0"/>
<line x1="169.7" y1="129.3" x2="140.8" y2="141.5" stroke="#ea4040" stroke-width="1.5"/>
<line x1="169.7" y1="129.3" x2="195" y2="141.5" stroke="#ea4040" stroke-width="1.5"/>
<line x1="168.5" y1="133" x2="171" y2="152" stroke="#ea4040" stroke-width="1.5"/>
<circle cx="185.1" cy="84.1" r="4.3" fill="url(#gH)"/>
<circle cx="178.4" cy="135.3" r="4.4" fill="url(#gH)"/>
<circle cx="190.8" cy="148" r="4.5" fill="url(#gH)"/>
<line x1="178.6" y1="81.2" x2="189.5" y2="67.5" stroke="#929292" stroke-width="5" stroke-linecap="round"/>
<line x1="212.9" y1="105.7" x2="206.4" y2="89" stroke="#929292" stroke-width="5" stroke-linecap="round"/>
<line x1="212.9" y1="105.7" x2="225.5" y2="104.5" stroke="#929292" stroke-width="5" stroke-linecap="round"/>
<line x1="169.7" y1="129.3" x2="178.6" y2="114.7" stroke="#929292" stroke-width="5" stroke-linecap="round"/>
<line x1="123.5" y1="145.5" x2="113.8" y2="131.6" stroke="#929292" stroke-width="5" stroke-linecap="round"/>
<line x1="123.5" y1="145.5" x2="140.8" y2="141.5" stroke="#929292" stroke-width="5" stroke-linecap="round"/>
<line x1="200.8" y1="143.8" x2="211.2" y2="129.3" stroke="#929292" stroke-width="5" stroke-linecap="round"/>
<line x1="180" y1="163" x2="171.9" y2="151.9" stroke="#929292" stroke-width="5" stroke-linecap="round"/>
<circle cx="189.5" cy="67.5" r="5.1" fill="url(#gH)"/>
<circle cx="206.4" cy="89" r="5.1" fill="url(#gH)"/>
<circle cx="225.5" cy="104.5" r="5.1" fill="url(#gH)"/>
<circle cx="178.6" cy="114.7" r="5.1" fill="url(#gH)"/>
<circle cx="113.8" cy="131.6" r="5.1" fill="url(#gH)"/>
<circle cx="211.2" cy="129.3" r="5.1" fill="url(#gH)"/>
<circle cx="178.6" cy="81.2" r="8.3" fill="url(#gO)"/>
<circle cx="212.9" cy="105.7" r="8.3" fill="url(#gO)"/>
<circle cx="169.7" cy="129.3" r="8.2" fill="url(#gO)"/>
<circle cx="200.8" cy="143.8" r="8.3" fill="url(#gO)"/>
<circle cx="171.9" cy="151.9" r="4.5" fill="url(#gH)"/>
<circle cx="180" cy="163" r="8.4" fill="url(#gO)"/>
<circle cx="181.2" cy="156.5" r="4.6" fill="url(#gH)"/>
<circle cx="123.5" cy="145.5" r="8.5" fill="url(#gO)"/>
<circle cx="140.8" cy="141.5" r="5.2" fill="url(#gH)"/>
<line x1="356.2" y1="81.2" x2="320.3" y2="142.6" stroke="#a4a8ee" stroke-width="1.0"/>
<line x1="356.2" y1="81.2" x2="340.4" y2="156.9" stroke="#a4a8ee" stroke-width="1.0"/>
<line x1="356.2" y1="81.2" x2="405" y2="146.1" stroke="#a4a8ee" stroke-width="1.0"/>
<line x1="320.3" y1="142.6" x2="405" y2="146.1" stroke="#a4a8ee" stroke-width="1.0"/>
<line x1="340.4" y1="156.9" x2="405" y2="146.1" stroke="#a4a8ee" stroke-width="1.0"/>
<line x1="320.3" y1="142.6" x2="340.4" y2="156.9" stroke="#a4a8ee" stroke-width="1.0"/>
<line x1="356.0" y1="89" x2="355.0" y2="110" stroke="#ea4040" stroke-width="1.8" stroke-dasharray="1.2,0.9"/>
<line x1="330" y1="135" x2="356.5" y2="130.8" stroke="#ea4040" stroke-width="1.5"/>
<line x1="373.4" y1="133.8" x2="405" y2="146.1" stroke="#ea4040" stroke-width="1.8" stroke-dasharray="1.2,0.9"/>
<line x1="356.2" y1="81.2" x2="342.5" y2="69.5" stroke="#929292" stroke-width="5" stroke-linecap="round"/>
<line x1="356.2" y1="81.2" x2="370.5" y2="77.5" stroke="#929292" stroke-width="5" stroke-linecap="round"/>
<circle cx="342.5" cy="69.5" r="5.3" fill="url(#gH)"/>
<circle cx="370.5" cy="77.5" r="5.3" fill="url(#gH)"/>
<circle cx="356.2" cy="81.2" r="8.5" fill="url(#gO)"/>
<circle cx="346.2" cy="144.2" r="5.2" fill="url(#gH)"/>
<line x1="356.5" y1="130.8" x2="354.7" y2="113.1" stroke="#929292" stroke-width="5" stroke-linecap="round"/>
<line x1="356.5" y1="130.8" x2="373.4" y2="133.8" stroke="#929292" stroke-width="5" stroke-linecap="round"/>
<circle cx="354.7" cy="113.1" r="5.2" fill="url(#gH)"/>
<circle cx="373.4" cy="133.8" r="5.2" fill="url(#gH)"/>
<circle cx="356.5" cy="130.8" r="8.4" fill="url(#gO)"/>
<line x1="320.3" y1="142.6" x2="312" y2="157.6" stroke="#929292" stroke-width="5" stroke-linecap="round"/>
<line x1="320.3" y1="142.6" x2="330" y2="135" stroke="#929292" stroke-width="5" stroke-linecap="round"/>
<circle cx="312" cy="157.6" r="5.2" fill="url(#gH)"/>
<circle cx="320.3" cy="142.6" r="8.5" fill="url(#gO)"/>
<circle cx="330" cy="135" r="5.2" fill="url(#gH)"/>
<line x1="340.4" y1="156.9" x2="354.2" y2="167.8" stroke="#929292" stroke-width="5" stroke-linecap="round"/>
<circle cx="354.2" cy="167.8" r="5.2" fill="url(#gH)"/>
<circle cx="340.4" cy="156.9" r="8.5" fill="url(#gO)"/>
<line x1="405" y1="146.1" x2="413.1" y2="134.5" stroke="#929292" stroke-width="5" stroke-linecap="round"/>
<line x1="405" y1="146.1" x2="399.7" y2="160.4" stroke="#929292" stroke-width="5" stroke-linecap="round"/>
<circle cx="413.1" cy="134.5" r="5.2" fill="url(#gH)"/>
<circle cx="399.7" cy="160.4" r="5.2" fill="url(#gH)"/>
<circle cx="405" cy="146.1" r="8.5" fill="url(#gO)"/>
<line x1="281.725" y1="13.82" x2="281.725" y2="204" stroke="#111" stroke-width="1.4" stroke-dasharray="1.2,3.91,6.2,3.95"/><line x1="281.725" y1="206.14" x2="281.725" y2="379" stroke="#111" stroke-width="1.4" stroke-dasharray="1.2,3.91,6.2,3.95"/><line x1="281.725" y1="380.94" x2="281.725" y2="555" stroke="#111" stroke-width="1.4" stroke-dasharray="1.2,3.91,6.2,3.95"/><line x1="281.725" y1="555.14" x2="281.725" y2="729" stroke="#111" stroke-width="1.4" stroke-dasharray="1.2,3.91,6.2,3.95"/>
</svg>
</body></html>
